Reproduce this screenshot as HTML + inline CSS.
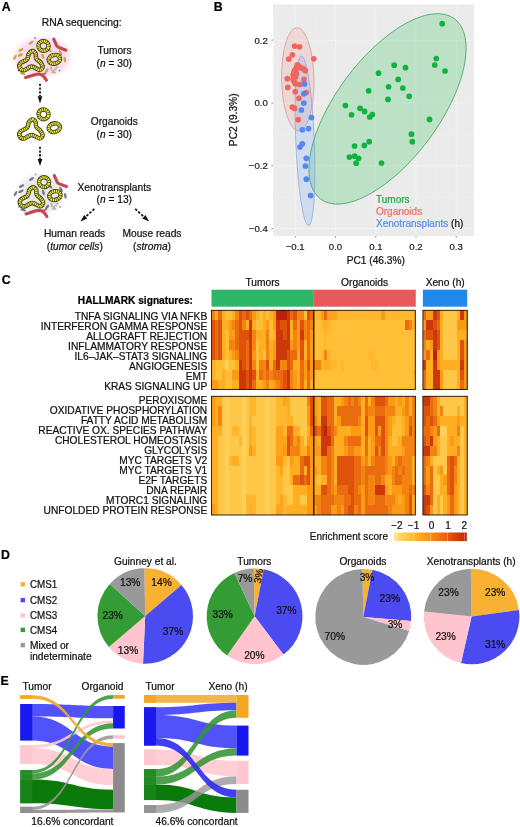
<!DOCTYPE html>
<html lang="en"><head><meta charset="utf-8"><title>Figure</title>
<style>html,body{margin:0;padding:0;background:#fff}body{width:520px;height:827px;overflow:hidden}svg{display:block}text{font-family:"Liberation Sans", sans-serif;stroke-width:0.22px}</style></head><body>
<svg width="520" height="827" viewBox="0 0 520 827">
<rect width="520" height="827" fill="#fff"/>
<g fill="#111">
<text x="1.8" y="10.8" font-size="12.3" font-weight="bold" fill="#000" stroke="#000">A</text>
<text x="213.7" y="10.8" font-size="12.3" font-weight="bold" fill="#000" stroke="#000">B</text>
<text x="1.7" y="283.9" font-size="12.3" font-weight="bold" fill="#000" stroke="#000">C</text>
<text x="0.9" y="559.1" font-size="12.3" font-weight="bold" fill="#000" stroke="#000">D</text>
<text x="0.5" y="685.0" font-size="12.3" font-weight="bold" fill="#000" stroke="#000">E</text>
<defs>
<radialGradient id="gp"><stop offset="0" stop-color="#f6d3e8"/><stop offset="0.72" stop-color="#f9dcee"/><stop offset="1" stop-color="#fdeef7" stop-opacity="0"/></radialGradient>
<radialGradient id="gg"><stop offset="0" stop-color="#e4e4e4"/><stop offset="0.7" stop-color="#ebebeb"/><stop offset="1" stop-color="#f6f6f6" stop-opacity="0"/></radialGradient>
</defs>
<ellipse cx="42.5" cy="57" rx="33" ry="23.5" fill="url(#gp)"/><g transform="translate(0 0)"><g fill="none" stroke="#c4464f" stroke-width="3.1" stroke-linecap="round" stroke-linejoin="round"><path d="M53.8 39.2 L56.6 45.6 Q57.5 47.2 59.5 47.8 L66 50.2"/><path d="M25.5 77.6 L35.5 74.4 Q38.8 73.6 41.2 74.6 Q44 76 46.4 80.2"/><path d="M41.5 74.8 L45.5 73.2" stroke-width="1.6"/></g></g><ellipse cx="31" cy="42.7" rx="2.9" ry="1.25" fill="#c9a63c" transform="rotate(-35 31 42.7)"/><ellipse cx="21" cy="49.8" rx="2.9" ry="1.25" fill="#c9a63c" transform="rotate(-30 21 49.8)"/><ellipse cx="15" cy="57.3" rx="2.9" ry="1.25" fill="#c9a63c" transform="rotate(-60 15 57.3)"/><ellipse cx="20.4" cy="55" rx="2.9" ry="1.25" fill="#c9a63c" transform="rotate(-25 20.4 55)"/><ellipse cx="42.9" cy="56.3" rx="2.9" ry="1.25" fill="#c9a63c" transform="rotate(70 42.9 56.3)"/><ellipse cx="64.8" cy="59.6" rx="2.9" ry="1.25" fill="#c9a63c" transform="rotate(80 64.8 59.6)"/><ellipse cx="46.6" cy="70.8" rx="2.9" ry="1.25" fill="#c9a63c" transform="rotate(-55 46.6 70.8)"/><ellipse cx="22.7" cy="73.6" rx="2.9" ry="1.25" fill="#c9a63c" transform="rotate(20 22.7 73.6)"/><ellipse cx="60.5" cy="53" rx="2.9" ry="1.25" fill="#c9a63c" transform="rotate(60 60.5 53)"/><ellipse cx="49.5" cy="50" rx="2.9" ry="1.25" fill="#c9a63c" transform="rotate(40 49.5 50)"/><circle cx="35" cy="38" r="0.9" fill="#8a6fc0"/><circle cx="59.6" cy="70.6" r="0.9" fill="#8a6fc0"/><circle cx="18.5" cy="70.5" r="0.9" fill="#8a6fc0"/><circle cx="51.5" cy="69.5" r="0.8" fill="#e4e0a8" stroke="#777" stroke-width="0.4"/><circle cx="53.5" cy="70.8" r="0.8" fill="#e4e0a8" stroke="#777" stroke-width="0.4"/><circle cx="55.5" cy="69.2" r="0.8" fill="#e4e0a8" stroke="#777" stroke-width="0.4"/><circle cx="52.6" cy="72.4" r="0.8" fill="#e4e0a8" stroke="#777" stroke-width="0.4"/><circle cx="54.8" cy="72.6" r="0.8" fill="#e4e0a8" stroke="#777" stroke-width="0.4"/><circle cx="57" cy="67.2" r="0.8" fill="#e4e0a8" stroke="#777" stroke-width="0.4"/><circle cx="50.8" cy="67.5" r="0.8" fill="#e4e0a8" stroke="#777" stroke-width="0.4"/><g transform="translate(0 0)"><g fill="none" stroke-linejoin="round"><g stroke="#3e400c" stroke-width="4.5"><path d="M32.60 51.00C33.72 50.97 34.98 52.33 35.60 53.60C36.22 54.87 35.52 57.17 36.30 58.60C37.08 60.03 39.25 60.87 40.30 62.20C41.35 63.53 42.72 65.30 42.60 66.60C42.48 67.90 41.43 70.00 39.60 70.00C37.77 70.00 34.20 66.57 31.60 66.60C29.00 66.63 26.00 70.03 24.00 70.20C22.00 70.37 20.17 68.80 19.60 67.60C19.03 66.40 19.37 64.37 20.60 63.00C21.83 61.63 25.62 60.93 27.00 59.40C28.38 57.87 27.97 55.20 28.90 53.80C29.83 52.40 31.48 51.03 32.60 51.00Z"/><ellipse cx="43.5" cy="45.9" rx="5.0" ry="4.8" transform="rotate(20 43.5 45.9)"/><ellipse cx="54.4" cy="59.3" rx="5.7" ry="4.3" transform="rotate(-14 54.4 59.3)"/></g><g stroke="#e9e650" stroke-width="2.7" stroke-dasharray="1.3 0.62"><path d="M32.60 51.00C33.72 50.97 34.98 52.33 35.60 53.60C36.22 54.87 35.52 57.17 36.30 58.60C37.08 60.03 39.25 60.87 40.30 62.20C41.35 63.53 42.72 65.30 42.60 66.60C42.48 67.90 41.43 70.00 39.60 70.00C37.77 70.00 34.20 66.57 31.60 66.60C29.00 66.63 26.00 70.03 24.00 70.20C22.00 70.37 20.17 68.80 19.60 67.60C19.03 66.40 19.37 64.37 20.60 63.00C21.83 61.63 25.62 60.93 27.00 59.40C28.38 57.87 27.97 55.20 28.90 53.80C29.83 52.40 31.48 51.03 32.60 51.00Z"/><ellipse cx="43.5" cy="45.9" rx="5.0" ry="4.8" transform="rotate(20 43.5 45.9)"/><ellipse cx="54.4" cy="59.3" rx="5.7" ry="4.3" transform="rotate(-14 54.4 59.3)"/></g></g></g>
<g transform="translate(0 68.4)"><g fill="none" stroke-linejoin="round"><g stroke="#3e400c" stroke-width="4.5"><path d="M32.60 51.00C33.72 50.97 34.98 52.33 35.60 53.60C36.22 54.87 35.52 57.17 36.30 58.60C37.08 60.03 39.25 60.87 40.30 62.20C41.35 63.53 42.72 65.30 42.60 66.60C42.48 67.90 41.43 70.00 39.60 70.00C37.77 70.00 34.20 66.57 31.60 66.60C29.00 66.63 26.00 70.03 24.00 70.20C22.00 70.37 20.17 68.80 19.60 67.60C19.03 66.40 19.37 64.37 20.60 63.00C21.83 61.63 25.62 60.93 27.00 59.40C28.38 57.87 27.97 55.20 28.90 53.80C29.83 52.40 31.48 51.03 32.60 51.00Z"/><ellipse cx="43.5" cy="45.9" rx="5.0" ry="4.8" transform="rotate(20 43.5 45.9)"/><ellipse cx="54.4" cy="59.3" rx="5.7" ry="4.3" transform="rotate(-14 54.4 59.3)"/></g><g stroke="#e9e650" stroke-width="2.7" stroke-dasharray="1.3 0.62"><path d="M32.60 51.00C33.72 50.97 34.98 52.33 35.60 53.60C36.22 54.87 35.52 57.17 36.30 58.60C37.08 60.03 39.25 60.87 40.30 62.20C41.35 63.53 42.72 65.30 42.60 66.60C42.48 67.90 41.43 70.00 39.60 70.00C37.77 70.00 34.20 66.57 31.60 66.60C29.00 66.63 26.00 70.03 24.00 70.20C22.00 70.37 20.17 68.80 19.60 67.60C19.03 66.40 19.37 64.37 20.60 63.00C21.83 61.63 25.62 60.93 27.00 59.40C28.38 57.87 27.97 55.20 28.90 53.80C29.83 52.40 31.48 51.03 32.60 51.00Z"/><ellipse cx="43.5" cy="45.9" rx="5.0" ry="4.8" transform="rotate(20 43.5 45.9)"/><ellipse cx="54.4" cy="59.3" rx="5.7" ry="4.3" transform="rotate(-14 54.4 59.3)"/></g></g></g>
<ellipse cx="41.0" cy="193.8" rx="28" ry="23.5" fill="url(#gg)"/><g transform="translate(0.5 136.3)"><g fill="none" stroke="#c4464f" stroke-width="3.1" stroke-linecap="round" stroke-linejoin="round"><path d="M53.8 39.2 L56.6 45.6 Q57.5 47.2 59.5 47.8 L66 50.2"/><path d="M25.5 77.6 L35.5 74.4 Q38.8 73.6 41.2 74.6 Q44 76 46.4 80.2"/><path d="M41.5 74.8 L45.5 73.2" stroke-width="1.6"/></g></g><ellipse cx="31.5" cy="179.0" rx="2.9" ry="1.25" fill="#767688" transform="rotate(-35 31.5 179.0)"/><ellipse cx="21.5" cy="186.10000000000002" rx="2.9" ry="1.25" fill="#767688" transform="rotate(-30 21.5 186.10000000000002)"/><ellipse cx="15.5" cy="193.60000000000002" rx="2.9" ry="1.25" fill="#767688" transform="rotate(-60 15.5 193.60000000000002)"/><ellipse cx="20.9" cy="191.3" rx="2.9" ry="1.25" fill="#767688" transform="rotate(-25 20.9 191.3)"/><ellipse cx="43.4" cy="192.60000000000002" rx="2.9" ry="1.25" fill="#767688" transform="rotate(70 43.4 192.60000000000002)"/><ellipse cx="65.3" cy="195.9" rx="2.9" ry="1.25" fill="#767688" transform="rotate(80 65.3 195.9)"/><ellipse cx="47.1" cy="207.10000000000002" rx="2.9" ry="1.25" fill="#767688" transform="rotate(-55 47.1 207.10000000000002)"/><ellipse cx="23.2" cy="209.9" rx="2.9" ry="1.25" fill="#767688" transform="rotate(20 23.2 209.9)"/><ellipse cx="61.0" cy="189.3" rx="2.9" ry="1.25" fill="#767688" transform="rotate(60 61.0 189.3)"/><ellipse cx="50.0" cy="186.3" rx="2.9" ry="1.25" fill="#767688" transform="rotate(40 50.0 186.3)"/><circle cx="35.5" cy="174.3" r="0.9" fill="#9a9aa8"/><circle cx="60.1" cy="206.9" r="0.9" fill="#9a9aa8"/><circle cx="19.0" cy="206.8" r="0.9" fill="#9a9aa8"/><circle cx="52.0" cy="205.8" r="0.8" fill="#e4e0a8" stroke="#777" stroke-width="0.4"/><circle cx="54.0" cy="207.10000000000002" r="0.8" fill="#e4e0a8" stroke="#777" stroke-width="0.4"/><circle cx="56.0" cy="205.5" r="0.8" fill="#e4e0a8" stroke="#777" stroke-width="0.4"/><circle cx="53.1" cy="208.70000000000002" r="0.8" fill="#e4e0a8" stroke="#777" stroke-width="0.4"/><circle cx="55.3" cy="208.9" r="0.8" fill="#e4e0a8" stroke="#777" stroke-width="0.4"/><circle cx="57.5" cy="203.5" r="0.8" fill="#e4e0a8" stroke="#777" stroke-width="0.4"/><circle cx="51.3" cy="203.8" r="0.8" fill="#e4e0a8" stroke="#777" stroke-width="0.4"/><g transform="translate(0.5 136.3)"><g fill="none" stroke-linejoin="round"><g stroke="#3e400c" stroke-width="4.5"><path d="M32.60 51.00C33.72 50.97 34.98 52.33 35.60 53.60C36.22 54.87 35.52 57.17 36.30 58.60C37.08 60.03 39.25 60.87 40.30 62.20C41.35 63.53 42.72 65.30 42.60 66.60C42.48 67.90 41.43 70.00 39.60 70.00C37.77 70.00 34.20 66.57 31.60 66.60C29.00 66.63 26.00 70.03 24.00 70.20C22.00 70.37 20.17 68.80 19.60 67.60C19.03 66.40 19.37 64.37 20.60 63.00C21.83 61.63 25.62 60.93 27.00 59.40C28.38 57.87 27.97 55.20 28.90 53.80C29.83 52.40 31.48 51.03 32.60 51.00Z"/><ellipse cx="43.5" cy="45.9" rx="5.0" ry="4.8" transform="rotate(20 43.5 45.9)"/><ellipse cx="54.4" cy="59.3" rx="5.7" ry="4.3" transform="rotate(-14 54.4 59.3)"/></g><g stroke="#e9e650" stroke-width="2.7" stroke-dasharray="1.3 0.62"><path d="M32.60 51.00C33.72 50.97 34.98 52.33 35.60 53.60C36.22 54.87 35.52 57.17 36.30 58.60C37.08 60.03 39.25 60.87 40.30 62.20C41.35 63.53 42.72 65.30 42.60 66.60C42.48 67.90 41.43 70.00 39.60 70.00C37.77 70.00 34.20 66.57 31.60 66.60C29.00 66.63 26.00 70.03 24.00 70.20C22.00 70.37 20.17 68.80 19.60 67.60C19.03 66.40 19.37 64.37 20.60 63.00C21.83 61.63 25.62 60.93 27.00 59.40C28.38 57.87 27.97 55.20 28.90 53.80C29.83 52.40 31.48 51.03 32.60 51.00Z"/><ellipse cx="43.5" cy="45.9" rx="5.0" ry="4.8" transform="rotate(20 43.5 45.9)"/><ellipse cx="54.4" cy="59.3" rx="5.7" ry="4.3" transform="rotate(-14 54.4 59.3)"/></g></g></g>
<line x1="40.0" y1="83.8" x2="40.00" y2="96.20" stroke="#111" stroke-width="1.7" stroke-dasharray="2.3 1.4"/>
<polygon points="40.00,103.40 37.70,96.20 42.30,96.20" fill="#111"/>
<line x1="40.0" y1="146.7" x2="40.00" y2="159.00" stroke="#111" stroke-width="1.7" stroke-dasharray="2.3 1.4"/>
<polygon points="40.00,166.20 37.70,159.00 42.30,159.00" fill="#111"/>
<line x1="94.4" y1="208.8" x2="85.71" y2="216.74" stroke="#111" stroke-width="1.6" stroke-dasharray="2.6 1.5"/>
<polygon points="80.40,221.60 84.16,215.04 87.27,218.44" fill="#111"/>
<line x1="135.2" y1="208.8" x2="143.89" y2="216.74" stroke="#111" stroke-width="1.6" stroke-dasharray="2.6 1.5"/>
<polygon points="149.20,221.60 142.33,218.44 145.44,215.04" fill="#111"/>
<text x="41.7" y="26.0" font-size="10.2" stroke="#111" textLength="80" lengthAdjust="spacingAndGlyphs">RNA sequencing:</text>
<text x="114.5" y="53.6" font-size="10.2" text-anchor="middle" stroke="#111">Tumors</text>
<text x="114.3" y="67.0" font-size="10.2" text-anchor="middle" stroke="#111">(<tspan font-style="italic">n</tspan> = 30)</text>
<text x="114.3" y="124.6" font-size="10.2" text-anchor="middle" stroke="#111">Organoids</text>
<text x="114.3" y="137.6" font-size="10.2" text-anchor="middle" stroke="#111">(<tspan font-style="italic">n</tspan> = 30)</text>
<text x="114.3" y="191.0" font-size="10.2" text-anchor="middle" stroke="#111">Xenotransplants</text>
<text x="114.3" y="203.4" font-size="10.2" text-anchor="middle" stroke="#111">(<tspan font-style="italic">n</tspan> = 13)</text>
<text x="74.6" y="236.6" font-size="10.2" text-anchor="middle" stroke="#111">Human reads</text>
<text x="74.8" y="250.0" font-size="10.2" text-anchor="middle" stroke="#111">(<tspan font-style="italic">tumor cells</tspan>)</text>
<text x="152" y="236.6" font-size="10.2" text-anchor="middle" stroke="#111">Mouse reads</text>
<text x="152" y="250.0" font-size="10.2" text-anchor="middle" stroke="#111">(<tspan font-style="italic">stroma</tspan>)</text>
<rect x="273.2" y="4.3" width="200.7" height="231.7" fill="#ebebeb"/>
<line x1="275.12" y1="4.3" x2="275.12" y2="236.0" stroke="#efefef" stroke-width="0.5"/><line x1="315.38" y1="4.3" x2="315.38" y2="236.0" stroke="#efefef" stroke-width="0.5"/><line x1="355.62" y1="4.3" x2="355.62" y2="236.0" stroke="#efefef" stroke-width="0.5"/><line x1="395.88" y1="4.3" x2="395.88" y2="236.0" stroke="#efefef" stroke-width="0.5"/><line x1="436.12" y1="4.3" x2="436.12" y2="236.0" stroke="#efefef" stroke-width="0.5"/><line x1="273.2" y1="8.80" x2="473.9" y2="8.80" stroke="#efefef" stroke-width="0.5"/><line x1="273.2" y1="71.60" x2="473.9" y2="71.60" stroke="#efefef" stroke-width="0.5"/><line x1="273.2" y1="134.40" x2="473.9" y2="134.40" stroke="#efefef" stroke-width="0.5"/><line x1="273.2" y1="197.20" x2="473.9" y2="197.20" stroke="#efefef" stroke-width="0.5"/><line x1="295.25" y1="4.3" x2="295.25" y2="236.0" stroke="#f4f4f4" stroke-width="0.8"/><line x1="295.25" y1="236.0" x2="295.25" y2="237.8" stroke="#777" stroke-width="0.7"/><line x1="335.50" y1="4.3" x2="335.50" y2="236.0" stroke="#f4f4f4" stroke-width="0.8"/><line x1="335.50" y1="236.0" x2="335.50" y2="237.8" stroke="#777" stroke-width="0.7"/><line x1="375.75" y1="4.3" x2="375.75" y2="236.0" stroke="#f4f4f4" stroke-width="0.8"/><line x1="375.75" y1="236.0" x2="375.75" y2="237.8" stroke="#777" stroke-width="0.7"/><line x1="416.00" y1="4.3" x2="416.00" y2="236.0" stroke="#f4f4f4" stroke-width="0.8"/><line x1="416.00" y1="236.0" x2="416.00" y2="237.8" stroke="#777" stroke-width="0.7"/><line x1="456.25" y1="4.3" x2="456.25" y2="236.0" stroke="#f4f4f4" stroke-width="0.8"/><line x1="456.25" y1="236.0" x2="456.25" y2="237.8" stroke="#777" stroke-width="0.7"/><line x1="273.2" y1="40.20" x2="473.9" y2="40.20" stroke="#f4f4f4" stroke-width="0.8"/><line x1="271.4" y1="40.20" x2="273.2" y2="40.20" stroke="#777" stroke-width="0.7"/><line x1="273.2" y1="103.00" x2="473.9" y2="103.00" stroke="#f4f4f4" stroke-width="0.8"/><line x1="271.4" y1="103.00" x2="273.2" y2="103.00" stroke="#777" stroke-width="0.7"/><line x1="273.2" y1="165.80" x2="473.9" y2="165.80" stroke="#f4f4f4" stroke-width="0.8"/><line x1="271.4" y1="165.80" x2="273.2" y2="165.80" stroke="#777" stroke-width="0.7"/><line x1="273.2" y1="228.60" x2="473.9" y2="228.60" stroke="#f4f4f4" stroke-width="0.8"/><line x1="271.4" y1="228.60" x2="273.2" y2="228.60" stroke="#777" stroke-width="0.7"/>
<ellipse cx="387.5" cy="108.9" rx="112.3" ry="51.4" transform="rotate(-53.4 387.5 108.9)" fill="#00ba38" fill-opacity="0.2" stroke="#2e9e55" stroke-opacity="0.85" stroke-width="0.8"/>
<ellipse cx="297.8" cy="79.2" rx="16.2" ry="51.6" transform="rotate(-1 297.8 79.2)" fill="#f8766d" fill-opacity="0.17" stroke="#d98680" stroke-opacity="0.9" stroke-width="0.7"/>
<ellipse cx="305" cy="140.8" rx="9.3" ry="84.8" transform="rotate(-2.4 305 140.8)" fill="#619cff" fill-opacity="0.2" stroke="#7d9bd8" stroke-opacity="0.9" stroke-width="0.7"/>
<g fill="#12b23e"><circle cx="442.2" cy="23.7" r="2.85"/><circle cx="436.3" cy="58.5" r="2.85"/><circle cx="434.8" cy="65" r="2.85"/><circle cx="445" cy="71" r="2.85"/><circle cx="394.2" cy="65.2" r="2.85"/><circle cx="405.5" cy="67.7" r="2.85"/><circle cx="378.5" cy="73.2" r="2.85"/><circle cx="398.2" cy="79.4" r="2.85"/><circle cx="388.6" cy="86.8" r="2.85"/><circle cx="402.8" cy="88" r="2.85"/><circle cx="368.6" cy="90.8" r="2.85"/><circle cx="409.2" cy="96.3" r="2.85"/><circle cx="388" cy="99.4" r="2.85"/><circle cx="360" cy="108.3" r="2.85"/><circle cx="364.6" cy="111.4" r="2.85"/><circle cx="372.3" cy="114.5" r="2.85"/><circle cx="369.8" cy="117" r="2.85"/><circle cx="429.5" cy="119.4" r="2.85"/><circle cx="411.4" cy="134.2" r="2.85"/><circle cx="345.4" cy="105.5" r="2.85"/><circle cx="351.5" cy="114.8" r="2.85"/><circle cx="412.3" cy="141.7" r="2.85"/><circle cx="369.2" cy="141.7" r="2.85"/><circle cx="364.3" cy="145.4" r="2.85"/><circle cx="381.5" cy="163" r="2.85"/><circle cx="354.6" cy="146" r="2.85"/><circle cx="349.4" cy="157" r="2.85"/><circle cx="354.6" cy="156.2" r="2.85"/><circle cx="358.6" cy="158.3" r="2.85"/><circle cx="356.2" cy="163.2" r="2.85"/></g>
<g fill="#f0665c"><circle cx="294.6" cy="46.1" r="2.85"/><circle cx="299.6" cy="46.8" r="2.85"/><circle cx="292.4" cy="54.8" r="2.85"/><circle cx="288.8" cy="59.1" r="2.85"/><circle cx="313.8" cy="58.8" r="2.85"/><circle cx="296.7" cy="67.1" r="2.85"/><circle cx="301" cy="67.8" r="2.85"/><circle cx="305.4" cy="70.7" r="2.85"/><circle cx="294.6" cy="70.7" r="2.85"/><circle cx="293.1" cy="75" r="2.85"/><circle cx="293.1" cy="79.4" r="2.85"/><circle cx="287.3" cy="78.7" r="2.85"/><circle cx="304" cy="79.4" r="2.85"/><circle cx="295.3" cy="83.8" r="2.85"/><circle cx="299.6" cy="84.5" r="2.85"/><circle cx="287.8" cy="87.4" r="2.85"/><circle cx="295.3" cy="91.7" r="2.85"/><circle cx="306.2" cy="92.5" r="2.85"/><circle cx="298.9" cy="98.3" r="2.85"/><circle cx="292.4" cy="107" r="2.85"/><circle cx="294.6" cy="108.4" r="2.85"/><circle cx="298.2" cy="119.7" r="2.85"/><circle cx="298.6" cy="66.2" r="2.85"/><circle cx="296" cy="68.8" r="2.85"/><circle cx="294" cy="72.6" r="2.85"/><circle cx="295.6" cy="76.8" r="2.85"/><circle cx="294.2" cy="81.6" r="2.85"/><circle cx="303.2" cy="68.6" r="2.85"/><circle cx="296.5" cy="73.5" r="2.85"/><circle cx="297.4" cy="64.9" r="2.85"/></g>
<g fill="#5488f0"><circle cx="303.8" cy="93.8" r="2.85"/><circle cx="303.8" cy="103" r="2.85"/><circle cx="301.4" cy="110" r="2.85"/><circle cx="311.5" cy="117.5" r="2.85"/><circle cx="302.3" cy="129.8" r="2.85"/><circle cx="308.5" cy="128.6" r="2.85"/><circle cx="302.3" cy="143.8" r="2.85"/><circle cx="300" cy="147" r="2.85"/><circle cx="306.3" cy="158.3" r="2.85"/><circle cx="305.4" cy="166" r="2.85"/><circle cx="306.3" cy="179.2" r="2.85"/><circle cx="310.6" cy="195.5" r="2.85"/><circle cx="304.5" cy="84" r="2.85"/></g>
<text x="267.8" y="43.65" font-size="9.6" text-anchor="end" fill="#222" stroke="#222">0.2</text>
<text x="267.8" y="106.45" font-size="9.6" text-anchor="end" fill="#222" stroke="#222">0.0</text>
<text x="267.8" y="169.25" font-size="9.6" text-anchor="end" fill="#222" stroke="#222">−0.2</text>
<text x="267.8" y="232.05" font-size="9.6" text-anchor="end" fill="#222" stroke="#222">−0.4</text>
<text x="295.2" y="250.2" font-size="9.6" text-anchor="middle" fill="#222" stroke="#222">−0.1</text>
<text x="335.5" y="250.2" font-size="9.6" text-anchor="middle" fill="#222" stroke="#222">0.0</text>
<text x="375.8" y="250.2" font-size="9.6" text-anchor="middle" fill="#222" stroke="#222">0.1</text>
<text x="416.0" y="250.2" font-size="9.6" text-anchor="middle" fill="#222" stroke="#222">0.2</text>
<text x="456.2" y="250.2" font-size="9.6" text-anchor="middle" fill="#222" stroke="#222">0.3</text>
<text x="375.8" y="264.4" font-size="10.2" text-anchor="middle" stroke="#111">PC1 (46.3%)</text>
<text x="0" y="0" font-size="10.2" text-anchor="middle" stroke="#111" transform="translate(236.8 119.8) rotate(-90)">PC2 (9.3%)</text>
<text x="376" y="202.8" font-size="10" fill="#21a84a" stroke="#21a84a">Tumors</text>
<text x="376" y="215.0" font-size="10" fill="#ea6f68" stroke="#ea6f68">Organoids</text>
<text x="376" y="226.8" font-size="10" stroke="#111"><tspan fill="#5b8fe8" stroke="#5b8fe8">Xenotransplants</tspan> (h)</text>
<g shape-rendering="crispEdges"><rect x="211.50" y="310.30" width="3.71" height="10.19" fill="#f48410"/><rect x="214.91" y="310.30" width="3.71" height="10.19" fill="#ffae22"/><rect x="218.32" y="310.30" width="3.71" height="10.19" fill="#ea6c0e"/><rect x="221.73" y="310.30" width="3.71" height="10.19" fill="#ffae22"/><rect x="225.14" y="310.30" width="7.12" height="10.19" fill="#ffc038"/><rect x="231.96" y="310.30" width="3.71" height="10.19" fill="#ffae22"/><rect x="235.37" y="310.30" width="3.71" height="10.19" fill="#f48410"/><rect x="238.78" y="310.30" width="3.71" height="10.19" fill="#de520c"/><rect x="242.19" y="310.30" width="3.71" height="10.19" fill="#ea6c0e"/><rect x="245.60" y="310.30" width="3.71" height="10.19" fill="#de520c"/><rect x="249.01" y="310.30" width="3.71" height="10.19" fill="#ea6c0e"/><rect x="252.42" y="310.30" width="3.71" height="10.19" fill="#fc9a16"/><rect x="255.83" y="310.30" width="3.71" height="10.19" fill="#ffae22"/><rect x="259.24" y="310.30" width="3.71" height="10.19" fill="#ffc038"/><rect x="262.65" y="310.30" width="3.71" height="10.19" fill="#ffae22"/><rect x="266.06" y="310.30" width="3.71" height="10.19" fill="#ffc038"/><rect x="269.47" y="310.30" width="3.71" height="10.19" fill="#ffae22"/><rect x="272.88" y="310.30" width="3.71" height="10.19" fill="#fc9a16"/><rect x="276.29" y="310.30" width="10.53" height="10.19" fill="#bc220a"/><rect x="286.52" y="310.30" width="3.71" height="10.19" fill="#cc380a"/><rect x="289.93" y="310.30" width="3.71" height="10.19" fill="#ea6c0e"/><rect x="293.34" y="310.30" width="3.71" height="10.19" fill="#de520c"/><rect x="296.75" y="310.30" width="7.12" height="10.19" fill="#f48410"/><rect x="303.57" y="310.30" width="3.71" height="10.19" fill="#ffc038"/><rect x="306.98" y="310.30" width="3.71" height="10.19" fill="#de520c"/><rect x="310.39" y="310.30" width="3.71" height="10.19" fill="#ea6c0e"/><rect x="211.50" y="320.19" width="3.71" height="10.19" fill="#de520c"/><rect x="214.91" y="320.19" width="3.71" height="10.19" fill="#ea6c0e"/><rect x="218.32" y="320.19" width="3.71" height="10.19" fill="#de520c"/><rect x="221.73" y="320.19" width="7.12" height="10.19" fill="#ffae22"/><rect x="228.55" y="320.19" width="3.71" height="10.19" fill="#fc9a16"/><rect x="231.96" y="320.19" width="3.71" height="10.19" fill="#f48410"/><rect x="235.37" y="320.19" width="3.71" height="10.19" fill="#ea6c0e"/><rect x="238.78" y="320.19" width="3.71" height="10.19" fill="#de520c"/><rect x="242.19" y="320.19" width="3.71" height="10.19" fill="#f48410"/><rect x="245.60" y="320.19" width="3.71" height="10.19" fill="#ffae22"/><rect x="249.01" y="320.19" width="3.71" height="10.19" fill="#cc380a"/><rect x="252.42" y="320.19" width="3.71" height="10.19" fill="#ffae22"/><rect x="255.83" y="320.19" width="7.12" height="10.19" fill="#ffc038"/><rect x="262.65" y="320.19" width="3.71" height="10.19" fill="#ffae22"/><rect x="266.06" y="320.19" width="3.71" height="10.19" fill="#fc9a16"/><rect x="269.47" y="320.19" width="3.71" height="10.19" fill="#ffc038"/><rect x="272.88" y="320.19" width="3.71" height="10.19" fill="#fc9a16"/><rect x="276.29" y="320.19" width="3.71" height="10.19" fill="#cc380a"/><rect x="279.70" y="320.19" width="7.12" height="10.19" fill="#de520c"/><rect x="286.52" y="320.19" width="3.71" height="10.19" fill="#cc380a"/><rect x="289.93" y="320.19" width="3.71" height="10.19" fill="#ffae22"/><rect x="293.34" y="320.19" width="3.71" height="10.19" fill="#ea6c0e"/><rect x="296.75" y="320.19" width="3.71" height="10.19" fill="#fc9a16"/><rect x="300.16" y="320.19" width="3.71" height="10.19" fill="#de520c"/><rect x="303.57" y="320.19" width="3.71" height="10.19" fill="#f48410"/><rect x="306.98" y="320.19" width="3.71" height="10.19" fill="#ea6c0e"/><rect x="310.39" y="320.19" width="3.71" height="10.19" fill="#f48410"/><rect x="211.50" y="330.08" width="3.71" height="10.19" fill="#de520c"/><rect x="214.91" y="330.08" width="3.71" height="10.19" fill="#ea6c0e"/><rect x="218.32" y="330.08" width="3.71" height="10.19" fill="#de520c"/><rect x="221.73" y="330.08" width="3.71" height="10.19" fill="#ffae22"/><rect x="225.14" y="330.08" width="3.71" height="10.19" fill="#ffc038"/><rect x="228.55" y="330.08" width="7.12" height="10.19" fill="#fc9a16"/><rect x="235.37" y="330.08" width="3.71" height="10.19" fill="#ea6c0e"/><rect x="238.78" y="330.08" width="10.53" height="10.19" fill="#de520c"/><rect x="249.01" y="330.08" width="3.71" height="10.19" fill="#cc380a"/><rect x="252.42" y="330.08" width="3.71" height="10.19" fill="#f48410"/><rect x="255.83" y="330.08" width="10.53" height="10.19" fill="#ffae22"/><rect x="266.06" y="330.08" width="3.71" height="10.19" fill="#f48410"/><rect x="269.47" y="330.08" width="3.71" height="10.19" fill="#ffc038"/><rect x="272.88" y="330.08" width="3.71" height="10.19" fill="#ffae22"/><rect x="276.29" y="330.08" width="7.12" height="10.19" fill="#cc380a"/><rect x="283.11" y="330.08" width="3.71" height="10.19" fill="#de520c"/><rect x="286.52" y="330.08" width="3.71" height="10.19" fill="#cc380a"/><rect x="289.93" y="330.08" width="3.71" height="10.19" fill="#ffae22"/><rect x="293.34" y="330.08" width="3.71" height="10.19" fill="#f48410"/><rect x="296.75" y="330.08" width="3.71" height="10.19" fill="#fc9a16"/><rect x="300.16" y="330.08" width="3.71" height="10.19" fill="#cc380a"/><rect x="303.57" y="330.08" width="3.71" height="10.19" fill="#f48410"/><rect x="306.98" y="330.08" width="3.71" height="10.19" fill="#ea6c0e"/><rect x="310.39" y="330.08" width="3.71" height="10.19" fill="#fc9a16"/><rect x="211.50" y="339.97" width="3.71" height="10.19" fill="#de520c"/><rect x="214.91" y="339.97" width="3.71" height="10.19" fill="#ea6c0e"/><rect x="218.32" y="339.97" width="3.71" height="10.19" fill="#de520c"/><rect x="221.73" y="339.97" width="3.71" height="10.19" fill="#ffae22"/><rect x="225.14" y="339.97" width="3.71" height="10.19" fill="#ffc038"/><rect x="228.55" y="339.97" width="7.12" height="10.19" fill="#f48410"/><rect x="235.37" y="339.97" width="3.71" height="10.19" fill="#ea6c0e"/><rect x="238.78" y="339.97" width="7.12" height="10.19" fill="#de520c"/><rect x="245.60" y="339.97" width="3.71" height="10.19" fill="#ea6c0e"/><rect x="249.01" y="339.97" width="3.71" height="10.19" fill="#cc380a"/><rect x="252.42" y="339.97" width="3.71" height="10.19" fill="#f48410"/><rect x="255.83" y="339.97" width="3.71" height="10.19" fill="#ffc038"/><rect x="259.24" y="339.97" width="7.12" height="10.19" fill="#ffae22"/><rect x="266.06" y="339.97" width="3.71" height="10.19" fill="#f48410"/><rect x="269.47" y="339.97" width="3.71" height="10.19" fill="#ffae22"/><rect x="272.88" y="339.97" width="3.71" height="10.19" fill="#fc9a16"/><rect x="276.29" y="339.97" width="13.94" height="10.19" fill="#cc380a"/><rect x="289.93" y="339.97" width="3.71" height="10.19" fill="#fc9a16"/><rect x="293.34" y="339.97" width="3.71" height="10.19" fill="#f48410"/><rect x="296.75" y="339.97" width="3.71" height="10.19" fill="#fc9a16"/><rect x="300.16" y="339.97" width="3.71" height="10.19" fill="#de520c"/><rect x="303.57" y="339.97" width="3.71" height="10.19" fill="#ffae22"/><rect x="306.98" y="339.97" width="3.71" height="10.19" fill="#ea6c0e"/><rect x="310.39" y="339.97" width="3.71" height="10.19" fill="#fc9a16"/><rect x="211.50" y="349.86" width="3.71" height="10.19" fill="#de520c"/><rect x="214.91" y="349.86" width="3.71" height="10.19" fill="#ea6c0e"/><rect x="218.32" y="349.86" width="3.71" height="10.19" fill="#de520c"/><rect x="221.73" y="349.86" width="3.71" height="10.19" fill="#ffae22"/><rect x="225.14" y="349.86" width="3.71" height="10.19" fill="#ffc038"/><rect x="228.55" y="349.86" width="3.71" height="10.19" fill="#ffae22"/><rect x="231.96" y="349.86" width="3.71" height="10.19" fill="#fc9a16"/><rect x="235.37" y="349.86" width="3.71" height="10.19" fill="#f48410"/><rect x="238.78" y="349.86" width="7.12" height="10.19" fill="#de520c"/><rect x="245.60" y="349.86" width="3.71" height="10.19" fill="#ea6c0e"/><rect x="249.01" y="349.86" width="3.71" height="10.19" fill="#cc380a"/><rect x="252.42" y="349.86" width="3.71" height="10.19" fill="#fc9a16"/><rect x="255.83" y="349.86" width="3.71" height="10.19" fill="#ffc038"/><rect x="259.24" y="349.86" width="3.71" height="10.19" fill="#ffae22"/><rect x="262.65" y="349.86" width="3.71" height="10.19" fill="#ffc038"/><rect x="266.06" y="349.86" width="3.71" height="10.19" fill="#f48410"/><rect x="269.47" y="349.86" width="3.71" height="10.19" fill="#ffae22"/><rect x="272.88" y="349.86" width="3.71" height="10.19" fill="#fc9a16"/><rect x="276.29" y="349.86" width="10.53" height="10.19" fill="#cc380a"/><rect x="286.52" y="349.86" width="3.71" height="10.19" fill="#de520c"/><rect x="289.93" y="349.86" width="7.12" height="10.19" fill="#ea6c0e"/><rect x="296.75" y="349.86" width="3.71" height="10.19" fill="#ffae22"/><rect x="300.16" y="349.86" width="3.71" height="10.19" fill="#de520c"/><rect x="303.57" y="349.86" width="3.71" height="10.19" fill="#ffae22"/><rect x="306.98" y="349.86" width="3.71" height="10.19" fill="#ea6c0e"/><rect x="310.39" y="349.86" width="3.71" height="10.19" fill="#fc9a16"/><rect x="211.50" y="359.75" width="3.71" height="10.19" fill="#ffae22"/><rect x="214.91" y="359.75" width="10.53" height="10.19" fill="#ffc038"/><rect x="225.14" y="359.75" width="3.71" height="10.19" fill="#ffd05a"/><rect x="228.55" y="359.75" width="7.12" height="10.19" fill="#ffc038"/><rect x="235.37" y="359.75" width="3.71" height="10.19" fill="#ffae22"/><rect x="238.78" y="359.75" width="3.71" height="10.19" fill="#cc380a"/><rect x="242.19" y="359.75" width="3.71" height="10.19" fill="#de520c"/><rect x="245.60" y="359.75" width="3.71" height="10.19" fill="#ea6c0e"/><rect x="249.01" y="359.75" width="3.71" height="10.19" fill="#cc380a"/><rect x="252.42" y="359.75" width="3.71" height="10.19" fill="#f48410"/><rect x="255.83" y="359.75" width="3.71" height="10.19" fill="#ffc038"/><rect x="259.24" y="359.75" width="7.12" height="10.19" fill="#f48410"/><rect x="266.06" y="359.75" width="3.71" height="10.19" fill="#de520c"/><rect x="269.47" y="359.75" width="3.71" height="10.19" fill="#ffae22"/><rect x="272.88" y="359.75" width="3.71" height="10.19" fill="#ea6c0e"/><rect x="276.29" y="359.75" width="3.71" height="10.19" fill="#cc380a"/><rect x="279.70" y="359.75" width="7.12" height="10.19" fill="#f48410"/><rect x="286.52" y="359.75" width="3.71" height="10.19" fill="#de520c"/><rect x="289.93" y="359.75" width="3.71" height="10.19" fill="#ea6c0e"/><rect x="293.34" y="359.75" width="7.12" height="10.19" fill="#ffae22"/><rect x="300.16" y="359.75" width="3.71" height="10.19" fill="#ea6c0e"/><rect x="303.57" y="359.75" width="3.71" height="10.19" fill="#fc9a16"/><rect x="306.98" y="359.75" width="3.71" height="10.19" fill="#de520c"/><rect x="310.39" y="359.75" width="3.71" height="10.19" fill="#fc9a16"/><rect x="211.50" y="369.64" width="3.71" height="10.19" fill="#ffae22"/><rect x="214.91" y="369.64" width="7.12" height="10.19" fill="#ffc038"/><rect x="221.73" y="369.64" width="3.71" height="10.19" fill="#ffae22"/><rect x="225.14" y="369.64" width="7.12" height="10.19" fill="#ffc038"/><rect x="231.96" y="369.64" width="7.12" height="10.19" fill="#fc9a16"/><rect x="238.78" y="369.64" width="7.12" height="10.19" fill="#cc380a"/><rect x="245.60" y="369.64" width="3.71" height="10.19" fill="#de520c"/><rect x="249.01" y="369.64" width="3.71" height="10.19" fill="#cc380a"/><rect x="252.42" y="369.64" width="3.71" height="10.19" fill="#de520c"/><rect x="255.83" y="369.64" width="3.71" height="10.19" fill="#ffae22"/><rect x="259.24" y="369.64" width="3.71" height="10.19" fill="#ea6c0e"/><rect x="262.65" y="369.64" width="3.71" height="10.19" fill="#f48410"/><rect x="266.06" y="369.64" width="3.71" height="10.19" fill="#ea6c0e"/><rect x="269.47" y="369.64" width="3.71" height="10.19" fill="#f48410"/><rect x="272.88" y="369.64" width="10.53" height="10.19" fill="#ea6c0e"/><rect x="283.11" y="369.64" width="3.71" height="10.19" fill="#de520c"/><rect x="286.52" y="369.64" width="3.71" height="10.19" fill="#cc380a"/><rect x="289.93" y="369.64" width="3.71" height="10.19" fill="#f48410"/><rect x="293.34" y="369.64" width="3.71" height="10.19" fill="#fc9a16"/><rect x="296.75" y="369.64" width="3.71" height="10.19" fill="#ffae22"/><rect x="300.16" y="369.64" width="3.71" height="10.19" fill="#ea6c0e"/><rect x="303.57" y="369.64" width="3.71" height="10.19" fill="#fc9a16"/><rect x="306.98" y="369.64" width="3.71" height="10.19" fill="#ea6c0e"/><rect x="310.39" y="369.64" width="3.71" height="10.19" fill="#fc9a16"/><rect x="211.50" y="379.53" width="7.12" height="10.19" fill="#fc9a16"/><rect x="218.32" y="379.53" width="7.12" height="10.19" fill="#ffae22"/><rect x="225.14" y="379.53" width="7.12" height="10.19" fill="#ffc038"/><rect x="231.96" y="379.53" width="7.12" height="10.19" fill="#ffae22"/><rect x="238.78" y="379.53" width="7.12" height="10.19" fill="#cc380a"/><rect x="245.60" y="379.53" width="3.71" height="10.19" fill="#de520c"/><rect x="249.01" y="379.53" width="3.71" height="10.19" fill="#cc380a"/><rect x="252.42" y="379.53" width="3.71" height="10.19" fill="#ea6c0e"/><rect x="255.83" y="379.53" width="7.12" height="10.19" fill="#ffae22"/><rect x="262.65" y="379.53" width="3.71" height="10.19" fill="#fc9a16"/><rect x="266.06" y="379.53" width="3.71" height="10.19" fill="#f48410"/><rect x="269.47" y="379.53" width="3.71" height="10.19" fill="#ffae22"/><rect x="272.88" y="379.53" width="3.71" height="10.19" fill="#fc9a16"/><rect x="276.29" y="379.53" width="3.71" height="10.19" fill="#f48410"/><rect x="279.70" y="379.53" width="3.71" height="10.19" fill="#ea6c0e"/><rect x="283.11" y="379.53" width="3.71" height="10.19" fill="#de520c"/><rect x="286.52" y="379.53" width="3.71" height="10.19" fill="#cc380a"/><rect x="289.93" y="379.53" width="3.71" height="10.19" fill="#f48410"/><rect x="293.34" y="379.53" width="3.71" height="10.19" fill="#fc9a16"/><rect x="296.75" y="379.53" width="3.71" height="10.19" fill="#ffae22"/><rect x="300.16" y="379.53" width="3.71" height="10.19" fill="#ea6c0e"/><rect x="303.57" y="379.53" width="3.71" height="10.19" fill="#ffae22"/><rect x="306.98" y="379.53" width="3.71" height="10.19" fill="#ea6c0e"/><rect x="310.39" y="379.53" width="3.71" height="10.19" fill="#ffae22"/></g>
<g shape-rendering="crispEdges"><rect x="313.80" y="310.30" width="7.07" height="10.19" fill="#ffb72d"/><rect x="320.57" y="310.30" width="3.68" height="10.19" fill="#fc9a16"/><rect x="323.95" y="310.30" width="3.68" height="10.19" fill="#ea6c0e"/><rect x="327.33" y="310.30" width="10.45" height="10.19" fill="#fea41c"/><rect x="337.48" y="310.30" width="44.28" height="10.19" fill="#ffb72d"/><rect x="381.47" y="310.30" width="3.68" height="10.19" fill="#fc9a16"/><rect x="384.85" y="310.30" width="30.75" height="10.19" fill="#ffb72d"/><rect x="313.80" y="320.19" width="7.07" height="10.19" fill="#ffc038"/><rect x="320.57" y="320.19" width="3.68" height="10.19" fill="#ffb72d"/><rect x="323.95" y="320.19" width="3.68" height="10.19" fill="#ffae22"/><rect x="327.33" y="320.19" width="3.68" height="10.19" fill="#ffb72d"/><rect x="330.72" y="320.19" width="74.73" height="10.19" fill="#ffc038"/><rect x="405.15" y="320.19" width="3.68" height="10.19" fill="#ea6c0e"/><rect x="408.53" y="320.19" width="3.68" height="10.19" fill="#f48410"/><rect x="411.92" y="320.19" width="3.68" height="10.19" fill="#ffae22"/><rect x="313.80" y="330.08" width="10.45" height="10.19" fill="#ffc038"/><rect x="323.95" y="330.08" width="3.68" height="10.19" fill="#ffb72d"/><rect x="327.33" y="330.08" width="88.27" height="10.19" fill="#ffc038"/><rect x="313.80" y="339.97" width="10.45" height="10.19" fill="#ffc038"/><rect x="323.95" y="339.97" width="3.68" height="10.19" fill="#ffb72d"/><rect x="327.33" y="339.97" width="88.27" height="10.19" fill="#ffc038"/><rect x="313.80" y="349.86" width="7.07" height="10.19" fill="#ffc038"/><rect x="320.57" y="349.86" width="3.68" height="10.19" fill="#ffb72d"/><rect x="323.95" y="349.86" width="3.68" height="10.19" fill="#f48410"/><rect x="327.33" y="349.86" width="3.68" height="10.19" fill="#ffb72d"/><rect x="330.72" y="349.86" width="37.52" height="10.19" fill="#ffc038"/><rect x="367.93" y="349.86" width="7.07" height="10.19" fill="#ffb72d"/><rect x="374.70" y="349.86" width="40.90" height="10.19" fill="#ffc038"/><rect x="313.80" y="359.75" width="7.07" height="10.19" fill="#f48410"/><rect x="320.57" y="359.75" width="3.68" height="10.19" fill="#ffb72d"/><rect x="323.95" y="359.75" width="7.07" height="10.19" fill="#ffae22"/><rect x="330.72" y="359.75" width="7.07" height="10.19" fill="#ffb72d"/><rect x="337.48" y="359.75" width="3.68" height="10.19" fill="#ffc038"/><rect x="340.87" y="359.75" width="3.68" height="10.19" fill="#ffb72d"/><rect x="344.25" y="359.75" width="27.37" height="10.19" fill="#ffc038"/><rect x="371.32" y="359.75" width="7.07" height="10.19" fill="#ffb72d"/><rect x="378.08" y="359.75" width="37.52" height="10.19" fill="#ffc038"/><rect x="313.80" y="369.64" width="3.68" height="10.19" fill="#ffb72d"/><rect x="317.18" y="369.64" width="95.03" height="10.19" fill="#ffc038"/><rect x="411.92" y="369.64" width="3.68" height="10.19" fill="#ffb72d"/><rect x="313.80" y="379.53" width="101.80" height="10.19" fill="#ffc038"/></g>
<g shape-rendering="crispEdges"><rect x="422.90" y="310.30" width="3.71" height="10.19" fill="#ea6c0e"/><rect x="426.31" y="310.30" width="7.12" height="10.19" fill="#fc9a16"/><rect x="433.12" y="310.30" width="3.71" height="10.19" fill="#cc380a"/><rect x="436.53" y="310.30" width="3.71" height="10.19" fill="#de520c"/><rect x="439.94" y="310.30" width="3.71" height="10.19" fill="#ffae22"/><rect x="443.35" y="310.30" width="13.93" height="10.19" fill="#ffc849"/><rect x="456.98" y="310.30" width="3.71" height="10.19" fill="#ffae22"/><rect x="460.38" y="310.30" width="3.71" height="10.19" fill="#cc380a"/><rect x="463.79" y="310.30" width="3.71" height="10.19" fill="#fc9a16"/><rect x="422.90" y="320.19" width="3.71" height="10.19" fill="#fc9a16"/><rect x="426.31" y="320.19" width="7.12" height="10.19" fill="#cc380a"/><rect x="433.12" y="320.19" width="3.71" height="10.19" fill="#de520c"/><rect x="436.53" y="320.19" width="3.71" height="10.19" fill="#ea6c0e"/><rect x="439.94" y="320.19" width="3.71" height="10.19" fill="#ffae22"/><rect x="443.35" y="320.19" width="13.93" height="10.19" fill="#ffc849"/><rect x="456.98" y="320.19" width="10.52" height="10.19" fill="#fc9a16"/><rect x="422.90" y="330.08" width="3.71" height="10.19" fill="#ea6c0e"/><rect x="426.31" y="330.08" width="7.12" height="10.19" fill="#de520c"/><rect x="433.12" y="330.08" width="3.71" height="10.19" fill="#cc380a"/><rect x="436.53" y="330.08" width="3.71" height="10.19" fill="#de520c"/><rect x="439.94" y="330.08" width="3.71" height="10.19" fill="#ffae22"/><rect x="443.35" y="330.08" width="13.93" height="10.19" fill="#ffc849"/><rect x="456.98" y="330.08" width="10.52" height="10.19" fill="#ffae22"/><rect x="422.90" y="339.97" width="3.71" height="10.19" fill="#f48410"/><rect x="426.31" y="339.97" width="3.71" height="10.19" fill="#ffae22"/><rect x="429.72" y="339.97" width="3.71" height="10.19" fill="#fc9a16"/><rect x="433.12" y="339.97" width="3.71" height="10.19" fill="#cc380a"/><rect x="436.53" y="339.97" width="3.71" height="10.19" fill="#de520c"/><rect x="439.94" y="339.97" width="3.71" height="10.19" fill="#ffae22"/><rect x="443.35" y="339.97" width="13.93" height="10.19" fill="#ffc849"/><rect x="456.98" y="339.97" width="3.71" height="10.19" fill="#ffae22"/><rect x="460.38" y="339.97" width="3.71" height="10.19" fill="#de520c"/><rect x="463.79" y="339.97" width="3.71" height="10.19" fill="#fc9a16"/><rect x="422.90" y="349.86" width="3.71" height="10.19" fill="#fc9a16"/><rect x="426.31" y="349.86" width="3.71" height="10.19" fill="#ea6c0e"/><rect x="429.72" y="349.86" width="3.71" height="10.19" fill="#ffae22"/><rect x="433.12" y="349.86" width="3.71" height="10.19" fill="#bc220a"/><rect x="436.53" y="349.86" width="3.71" height="10.19" fill="#fc9a16"/><rect x="439.94" y="349.86" width="3.71" height="10.19" fill="#ffae22"/><rect x="443.35" y="349.86" width="13.93" height="10.19" fill="#ffc849"/><rect x="456.98" y="349.86" width="3.71" height="10.19" fill="#ffae22"/><rect x="460.38" y="349.86" width="3.71" height="10.19" fill="#de520c"/><rect x="463.79" y="349.86" width="3.71" height="10.19" fill="#fc9a16"/><rect x="422.90" y="359.75" width="3.71" height="10.19" fill="#cc380a"/><rect x="426.31" y="359.75" width="7.12" height="10.19" fill="#ffae22"/><rect x="433.12" y="359.75" width="3.71" height="10.19" fill="#cc380a"/><rect x="436.53" y="359.75" width="3.71" height="10.19" fill="#fc9a16"/><rect x="439.94" y="359.75" width="20.75" height="10.19" fill="#ffae22"/><rect x="460.38" y="359.75" width="3.71" height="10.19" fill="#cc380a"/><rect x="463.79" y="359.75" width="3.71" height="10.19" fill="#fc9a16"/><rect x="422.90" y="369.64" width="3.71" height="10.19" fill="#ea6c0e"/><rect x="426.31" y="369.64" width="7.12" height="10.19" fill="#ffae22"/><rect x="433.12" y="369.64" width="7.12" height="10.19" fill="#cc380a"/><rect x="439.94" y="369.64" width="3.71" height="10.19" fill="#fc9a16"/><rect x="443.35" y="369.64" width="13.93" height="10.19" fill="#ffc849"/><rect x="456.98" y="369.64" width="3.71" height="10.19" fill="#ffae22"/><rect x="460.38" y="369.64" width="3.71" height="10.19" fill="#de520c"/><rect x="463.79" y="369.64" width="3.71" height="10.19" fill="#fc9a16"/><rect x="422.90" y="379.53" width="3.71" height="10.19" fill="#ea6c0e"/><rect x="426.31" y="379.53" width="7.12" height="10.19" fill="#ffae22"/><rect x="433.12" y="379.53" width="7.12" height="10.19" fill="#cc380a"/><rect x="439.94" y="379.53" width="3.71" height="10.19" fill="#fc9a16"/><rect x="443.35" y="379.53" width="13.93" height="10.19" fill="#ffc849"/><rect x="456.98" y="379.53" width="3.71" height="10.19" fill="#ffae22"/><rect x="460.38" y="379.53" width="3.71" height="10.19" fill="#ea6c0e"/><rect x="463.79" y="379.53" width="3.71" height="10.19" fill="#fc9a16"/></g>
<rect x="211.5" y="310.3" width="102.30" height="79.12" fill="none" stroke="#1a1208" stroke-width="0.9"/>
<rect x="313.8" y="310.3" width="101.50" height="79.12" fill="none" stroke="#1a1208" stroke-width="0.9"/>
<rect x="422.9" y="310.3" width="44.30" height="79.12" fill="none" stroke="#1a1208" stroke-width="0.9"/>
<g shape-rendering="crispEdges"><rect x="211.50" y="396.30" width="3.71" height="10.19" fill="#fc9a16"/><rect x="214.91" y="396.30" width="7.12" height="10.19" fill="#ffae22"/><rect x="221.73" y="396.30" width="3.71" height="10.19" fill="#ffc849"/><rect x="225.14" y="396.30" width="3.71" height="10.19" fill="#ffd05a"/><rect x="228.55" y="396.30" width="13.94" height="10.19" fill="#ffc849"/><rect x="242.19" y="396.30" width="3.71" height="10.19" fill="#ffd05a"/><rect x="245.60" y="396.30" width="3.71" height="10.19" fill="#ffc849"/><rect x="249.01" y="396.30" width="7.12" height="10.19" fill="#ffb72d"/><rect x="255.83" y="396.30" width="10.53" height="10.19" fill="#ffc849"/><rect x="266.06" y="396.30" width="3.71" height="10.19" fill="#ffd05a"/><rect x="269.47" y="396.30" width="7.12" height="10.19" fill="#ffc849"/><rect x="276.29" y="396.30" width="7.12" height="10.19" fill="#ffb72d"/><rect x="283.11" y="396.30" width="3.71" height="10.19" fill="#fea41c"/><rect x="286.52" y="396.30" width="3.71" height="10.19" fill="#ffae22"/><rect x="289.93" y="396.30" width="17.35" height="10.19" fill="#ffc849"/><rect x="306.98" y="396.30" width="3.71" height="10.19" fill="#f48410"/><rect x="310.39" y="396.30" width="3.71" height="10.19" fill="#de520c"/><rect x="211.50" y="406.19" width="3.71" height="10.19" fill="#fc9a16"/><rect x="214.91" y="406.19" width="3.71" height="10.19" fill="#ffae22"/><rect x="218.32" y="406.19" width="3.71" height="10.19" fill="#f48410"/><rect x="221.73" y="406.19" width="3.71" height="10.19" fill="#ffc849"/><rect x="225.14" y="406.19" width="3.71" height="10.19" fill="#ffd05a"/><rect x="228.55" y="406.19" width="13.94" height="10.19" fill="#ffc849"/><rect x="242.19" y="406.19" width="3.71" height="10.19" fill="#ffd05a"/><rect x="245.60" y="406.19" width="3.71" height="10.19" fill="#ffc849"/><rect x="249.01" y="406.19" width="7.12" height="10.19" fill="#ffb72d"/><rect x="255.83" y="406.19" width="10.53" height="10.19" fill="#ffc849"/><rect x="266.06" y="406.19" width="3.71" height="10.19" fill="#ffd05a"/><rect x="269.47" y="406.19" width="7.12" height="10.19" fill="#ffc849"/><rect x="276.29" y="406.19" width="10.53" height="10.19" fill="#ffb72d"/><rect x="286.52" y="406.19" width="3.71" height="10.19" fill="#ffae22"/><rect x="289.93" y="406.19" width="17.35" height="10.19" fill="#ffc849"/><rect x="306.98" y="406.19" width="3.71" height="10.19" fill="#fc9a16"/><rect x="310.39" y="406.19" width="3.71" height="10.19" fill="#de520c"/><rect x="211.50" y="416.08" width="3.71" height="10.19" fill="#fc9a16"/><rect x="214.91" y="416.08" width="3.71" height="10.19" fill="#ffae22"/><rect x="218.32" y="416.08" width="3.71" height="10.19" fill="#f48410"/><rect x="221.73" y="416.08" width="3.71" height="10.19" fill="#ffc849"/><rect x="225.14" y="416.08" width="3.71" height="10.19" fill="#ffd05a"/><rect x="228.55" y="416.08" width="13.94" height="10.19" fill="#ffc849"/><rect x="242.19" y="416.08" width="3.71" height="10.19" fill="#ffd05a"/><rect x="245.60" y="416.08" width="3.71" height="10.19" fill="#ffc849"/><rect x="249.01" y="416.08" width="3.71" height="10.19" fill="#ffb72d"/><rect x="252.42" y="416.08" width="13.94" height="10.19" fill="#ffc849"/><rect x="266.06" y="416.08" width="3.71" height="10.19" fill="#ffd05a"/><rect x="269.47" y="416.08" width="7.12" height="10.19" fill="#ffc849"/><rect x="276.29" y="416.08" width="10.53" height="10.19" fill="#ffb72d"/><rect x="286.52" y="416.08" width="7.12" height="10.19" fill="#ffae22"/><rect x="293.34" y="416.08" width="13.94" height="10.19" fill="#ffc849"/><rect x="306.98" y="416.08" width="3.71" height="10.19" fill="#fc9a16"/><rect x="310.39" y="416.08" width="3.71" height="10.19" fill="#de520c"/><rect x="211.50" y="425.97" width="10.53" height="10.19" fill="#ffae22"/><rect x="221.73" y="425.97" width="3.71" height="10.19" fill="#ffc849"/><rect x="225.14" y="425.97" width="3.71" height="10.19" fill="#ffd05a"/><rect x="228.55" y="425.97" width="3.71" height="10.19" fill="#ffc849"/><rect x="231.96" y="425.97" width="7.12" height="10.19" fill="#ffb72d"/><rect x="238.78" y="425.97" width="3.71" height="10.19" fill="#ffc849"/><rect x="242.19" y="425.97" width="3.71" height="10.19" fill="#ffd05a"/><rect x="245.60" y="425.97" width="3.71" height="10.19" fill="#ffc849"/><rect x="249.01" y="425.97" width="3.71" height="10.19" fill="#ffae22"/><rect x="252.42" y="425.97" width="3.71" height="10.19" fill="#ffb72d"/><rect x="255.83" y="425.97" width="10.53" height="10.19" fill="#ffc849"/><rect x="266.06" y="425.97" width="3.71" height="10.19" fill="#ffd05a"/><rect x="269.47" y="425.97" width="7.12" height="10.19" fill="#ffc849"/><rect x="276.29" y="425.97" width="7.12" height="10.19" fill="#fea41c"/><rect x="283.11" y="425.97" width="3.71" height="10.19" fill="#ffb72d"/><rect x="286.52" y="425.97" width="7.12" height="10.19" fill="#ea6c0e"/><rect x="293.34" y="425.97" width="7.12" height="10.19" fill="#ffae22"/><rect x="300.16" y="425.97" width="7.12" height="10.19" fill="#ffc849"/><rect x="306.98" y="425.97" width="3.71" height="10.19" fill="#ffae22"/><rect x="310.39" y="425.97" width="3.71" height="10.19" fill="#ea6c0e"/><rect x="211.50" y="435.86" width="7.12" height="10.19" fill="#ffae22"/><rect x="218.32" y="435.86" width="7.12" height="10.19" fill="#ffc849"/><rect x="225.14" y="435.86" width="3.71" height="10.19" fill="#ffd05a"/><rect x="228.55" y="435.86" width="10.53" height="10.19" fill="#ffc849"/><rect x="238.78" y="435.86" width="3.71" height="10.19" fill="#ffb72d"/><rect x="242.19" y="435.86" width="3.71" height="10.19" fill="#ffd05a"/><rect x="245.60" y="435.86" width="3.71" height="10.19" fill="#ffc849"/><rect x="249.01" y="435.86" width="3.71" height="10.19" fill="#ffae22"/><rect x="252.42" y="435.86" width="3.71" height="10.19" fill="#ffb72d"/><rect x="255.83" y="435.86" width="10.53" height="10.19" fill="#ffc849"/><rect x="266.06" y="435.86" width="3.71" height="10.19" fill="#ffd05a"/><rect x="269.47" y="435.86" width="7.12" height="10.19" fill="#ffc849"/><rect x="276.29" y="435.86" width="10.53" height="10.19" fill="#fea41c"/><rect x="286.52" y="435.86" width="3.71" height="10.19" fill="#de520c"/><rect x="289.93" y="435.86" width="3.71" height="10.19" fill="#ea6c0e"/><rect x="293.34" y="435.86" width="3.71" height="10.19" fill="#fc9a16"/><rect x="296.75" y="435.86" width="3.71" height="10.19" fill="#f48410"/><rect x="300.16" y="435.86" width="3.71" height="10.19" fill="#ffae22"/><rect x="303.57" y="435.86" width="3.71" height="10.19" fill="#ffc849"/><rect x="306.98" y="435.86" width="7.12" height="10.19" fill="#fc9a16"/><rect x="211.50" y="445.75" width="7.12" height="10.19" fill="#ffae22"/><rect x="218.32" y="445.75" width="7.12" height="10.19" fill="#ffc849"/><rect x="225.14" y="445.75" width="3.71" height="10.19" fill="#ffd05a"/><rect x="228.55" y="445.75" width="13.94" height="10.19" fill="#ffc849"/><rect x="242.19" y="445.75" width="3.71" height="10.19" fill="#ffd05a"/><rect x="245.60" y="445.75" width="3.71" height="10.19" fill="#ffc849"/><rect x="249.01" y="445.75" width="3.71" height="10.19" fill="#fc9a16"/><rect x="252.42" y="445.75" width="3.71" height="10.19" fill="#ffae22"/><rect x="255.83" y="445.75" width="10.53" height="10.19" fill="#ffc849"/><rect x="266.06" y="445.75" width="3.71" height="10.19" fill="#ffd05a"/><rect x="269.47" y="445.75" width="7.12" height="10.19" fill="#ffc849"/><rect x="276.29" y="445.75" width="7.12" height="10.19" fill="#fea41c"/><rect x="283.11" y="445.75" width="3.71" height="10.19" fill="#fc9a16"/><rect x="286.52" y="445.75" width="3.71" height="10.19" fill="#de520c"/><rect x="289.93" y="445.75" width="10.53" height="10.19" fill="#f48410"/><rect x="300.16" y="445.75" width="7.12" height="10.19" fill="#ffae22"/><rect x="306.98" y="445.75" width="3.71" height="10.19" fill="#f48410"/><rect x="310.39" y="445.75" width="3.71" height="10.19" fill="#fc9a16"/><rect x="211.50" y="455.64" width="7.12" height="10.19" fill="#ffae22"/><rect x="218.32" y="455.64" width="7.12" height="10.19" fill="#ffc849"/><rect x="225.14" y="455.64" width="3.71" height="10.19" fill="#ffd05a"/><rect x="228.55" y="455.64" width="3.71" height="10.19" fill="#ffb72d"/><rect x="231.96" y="455.64" width="7.12" height="10.19" fill="#ffae22"/><rect x="238.78" y="455.64" width="3.71" height="10.19" fill="#ffc849"/><rect x="242.19" y="455.64" width="3.71" height="10.19" fill="#ffd05a"/><rect x="245.60" y="455.64" width="20.76" height="10.19" fill="#ffc849"/><rect x="266.06" y="455.64" width="3.71" height="10.19" fill="#ffd05a"/><rect x="269.47" y="455.64" width="7.12" height="10.19" fill="#ffc849"/><rect x="276.29" y="455.64" width="7.12" height="10.19" fill="#fc9a16"/><rect x="283.11" y="455.64" width="3.71" height="10.19" fill="#ffb72d"/><rect x="286.52" y="455.64" width="3.71" height="10.19" fill="#ffc849"/><rect x="289.93" y="455.64" width="3.71" height="10.19" fill="#fc9a16"/><rect x="293.34" y="455.64" width="7.12" height="10.19" fill="#ffae22"/><rect x="300.16" y="455.64" width="3.71" height="10.19" fill="#ea6c0e"/><rect x="303.57" y="455.64" width="7.12" height="10.19" fill="#de520c"/><rect x="310.39" y="455.64" width="3.71" height="10.19" fill="#fc9a16"/><rect x="211.50" y="465.53" width="7.12" height="10.19" fill="#ffae22"/><rect x="218.32" y="465.53" width="7.12" height="10.19" fill="#ffc849"/><rect x="225.14" y="465.53" width="3.71" height="10.19" fill="#ffd05a"/><rect x="228.55" y="465.53" width="13.94" height="10.19" fill="#ffc849"/><rect x="242.19" y="465.53" width="3.71" height="10.19" fill="#ffd05a"/><rect x="245.60" y="465.53" width="20.76" height="10.19" fill="#ffc849"/><rect x="266.06" y="465.53" width="3.71" height="10.19" fill="#ffd05a"/><rect x="269.47" y="465.53" width="7.12" height="10.19" fill="#ffc849"/><rect x="276.29" y="465.53" width="3.71" height="10.19" fill="#ffb72d"/><rect x="279.70" y="465.53" width="3.71" height="10.19" fill="#fea41c"/><rect x="283.11" y="465.53" width="7.12" height="10.19" fill="#ffc849"/><rect x="289.93" y="465.53" width="10.53" height="10.19" fill="#ffae22"/><rect x="300.16" y="465.53" width="3.71" height="10.19" fill="#ea6c0e"/><rect x="303.57" y="465.53" width="3.71" height="10.19" fill="#ffae22"/><rect x="306.98" y="465.53" width="3.71" height="10.19" fill="#de520c"/><rect x="310.39" y="465.53" width="3.71" height="10.19" fill="#fc9a16"/><rect x="211.50" y="475.42" width="7.12" height="10.19" fill="#ffae22"/><rect x="218.32" y="475.42" width="7.12" height="10.19" fill="#ffc849"/><rect x="225.14" y="475.42" width="3.71" height="10.19" fill="#ffd05a"/><rect x="228.55" y="475.42" width="13.94" height="10.19" fill="#ffc849"/><rect x="242.19" y="475.42" width="3.71" height="10.19" fill="#ffd05a"/><rect x="245.60" y="475.42" width="20.76" height="10.19" fill="#ffc849"/><rect x="266.06" y="475.42" width="3.71" height="10.19" fill="#ffd05a"/><rect x="269.47" y="475.42" width="7.12" height="10.19" fill="#ffc849"/><rect x="276.29" y="475.42" width="7.12" height="10.19" fill="#ffb72d"/><rect x="283.11" y="475.42" width="7.12" height="10.19" fill="#ffc849"/><rect x="289.93" y="475.42" width="3.71" height="10.19" fill="#ffae22"/><rect x="293.34" y="475.42" width="7.12" height="10.19" fill="#ea6c0e"/><rect x="300.16" y="475.42" width="3.71" height="10.19" fill="#de520c"/><rect x="303.57" y="475.42" width="3.71" height="10.19" fill="#ea6c0e"/><rect x="306.98" y="475.42" width="3.71" height="10.19" fill="#de520c"/><rect x="310.39" y="475.42" width="3.71" height="10.19" fill="#fc9a16"/><rect x="211.50" y="485.31" width="7.12" height="10.19" fill="#ffae22"/><rect x="218.32" y="485.31" width="7.12" height="10.19" fill="#ffc849"/><rect x="225.14" y="485.31" width="3.71" height="10.19" fill="#ffd05a"/><rect x="228.55" y="485.31" width="13.94" height="10.19" fill="#ffc849"/><rect x="242.19" y="485.31" width="3.71" height="10.19" fill="#ffd05a"/><rect x="245.60" y="485.31" width="20.76" height="10.19" fill="#ffc849"/><rect x="266.06" y="485.31" width="3.71" height="10.19" fill="#ffd05a"/><rect x="269.47" y="485.31" width="7.12" height="10.19" fill="#ffc849"/><rect x="276.29" y="485.31" width="7.12" height="10.19" fill="#ffb72d"/><rect x="283.11" y="485.31" width="10.53" height="10.19" fill="#ffc849"/><rect x="293.34" y="485.31" width="13.94" height="10.19" fill="#ffae22"/><rect x="306.98" y="485.31" width="7.12" height="10.19" fill="#fc9a16"/><rect x="211.50" y="495.20" width="7.12" height="10.19" fill="#ffae22"/><rect x="218.32" y="495.20" width="7.12" height="10.19" fill="#ffc849"/><rect x="225.14" y="495.20" width="3.71" height="10.19" fill="#ffd05a"/><rect x="228.55" y="495.20" width="13.94" height="10.19" fill="#ffc849"/><rect x="242.19" y="495.20" width="3.71" height="10.19" fill="#ffd05a"/><rect x="245.60" y="495.20" width="10.53" height="10.19" fill="#ffb72d"/><rect x="255.83" y="495.20" width="10.53" height="10.19" fill="#ffc849"/><rect x="266.06" y="495.20" width="3.71" height="10.19" fill="#ffd05a"/><rect x="269.47" y="495.20" width="7.12" height="10.19" fill="#ffc849"/><rect x="276.29" y="495.20" width="3.71" height="10.19" fill="#ffb72d"/><rect x="279.70" y="495.20" width="3.71" height="10.19" fill="#fea41c"/><rect x="283.11" y="495.20" width="3.71" height="10.19" fill="#ffb72d"/><rect x="286.52" y="495.20" width="7.12" height="10.19" fill="#ffc849"/><rect x="293.34" y="495.20" width="7.12" height="10.19" fill="#ffae22"/><rect x="300.16" y="495.20" width="7.12" height="10.19" fill="#ffc849"/><rect x="306.98" y="495.20" width="7.12" height="10.19" fill="#fc9a16"/><rect x="211.50" y="505.09" width="3.71" height="10.19" fill="#fc9a16"/><rect x="214.91" y="505.09" width="3.71" height="10.19" fill="#ffae22"/><rect x="218.32" y="505.09" width="7.12" height="10.19" fill="#ffc849"/><rect x="225.14" y="505.09" width="3.71" height="10.19" fill="#ffd05a"/><rect x="228.55" y="505.09" width="13.94" height="10.19" fill="#ffc849"/><rect x="242.19" y="505.09" width="3.71" height="10.19" fill="#ffd05a"/><rect x="245.60" y="505.09" width="3.71" height="10.19" fill="#ffb72d"/><rect x="249.01" y="505.09" width="3.71" height="10.19" fill="#ffae22"/><rect x="252.42" y="505.09" width="3.71" height="10.19" fill="#ffb72d"/><rect x="255.83" y="505.09" width="10.53" height="10.19" fill="#ffc849"/><rect x="266.06" y="505.09" width="3.71" height="10.19" fill="#ffd05a"/><rect x="269.47" y="505.09" width="7.12" height="10.19" fill="#ffc849"/><rect x="276.29" y="505.09" width="7.12" height="10.19" fill="#fea41c"/><rect x="283.11" y="505.09" width="3.71" height="10.19" fill="#ffb72d"/><rect x="286.52" y="505.09" width="20.76" height="10.19" fill="#ffae22"/><rect x="306.98" y="505.09" width="7.12" height="10.19" fill="#fc9a16"/></g>
<g shape-rendering="crispEdges"><rect x="313.80" y="396.30" width="3.68" height="10.19" fill="#fc9a16"/><rect x="317.18" y="396.30" width="3.68" height="10.19" fill="#ffae22"/><rect x="320.57" y="396.30" width="7.07" height="10.19" fill="#de520c"/><rect x="327.33" y="396.30" width="7.07" height="10.19" fill="#ea6c0e"/><rect x="334.10" y="396.30" width="7.07" height="10.19" fill="#ffae22"/><rect x="340.87" y="396.30" width="3.68" height="10.19" fill="#fc9a16"/><rect x="344.25" y="396.30" width="3.68" height="10.19" fill="#f48410"/><rect x="347.63" y="396.30" width="3.68" height="10.19" fill="#ea6c0e"/><rect x="351.02" y="396.30" width="3.68" height="10.19" fill="#f48410"/><rect x="354.40" y="396.30" width="3.68" height="10.19" fill="#ea6c0e"/><rect x="357.78" y="396.30" width="3.68" height="10.19" fill="#f48410"/><rect x="361.17" y="396.30" width="3.68" height="10.19" fill="#ffae22"/><rect x="364.55" y="396.30" width="3.68" height="10.19" fill="#ea6c0e"/><rect x="367.93" y="396.30" width="3.68" height="10.19" fill="#ffae22"/><rect x="371.32" y="396.30" width="3.68" height="10.19" fill="#f48410"/><rect x="374.70" y="396.30" width="10.45" height="10.19" fill="#de520c"/><rect x="384.85" y="396.30" width="3.68" height="10.19" fill="#ea6c0e"/><rect x="388.23" y="396.30" width="7.07" height="10.19" fill="#fc9a16"/><rect x="395.00" y="396.30" width="3.68" height="10.19" fill="#ffae22"/><rect x="398.38" y="396.30" width="3.68" height="10.19" fill="#fc9a16"/><rect x="401.77" y="396.30" width="3.68" height="10.19" fill="#ffae22"/><rect x="405.15" y="396.30" width="3.68" height="10.19" fill="#f48410"/><rect x="408.53" y="396.30" width="3.68" height="10.19" fill="#ffae22"/><rect x="411.92" y="396.30" width="3.68" height="10.19" fill="#f48410"/><rect x="313.80" y="406.19" width="3.68" height="10.19" fill="#fc9a16"/><rect x="317.18" y="406.19" width="3.68" height="10.19" fill="#ffae22"/><rect x="320.57" y="406.19" width="7.07" height="10.19" fill="#de520c"/><rect x="327.33" y="406.19" width="7.07" height="10.19" fill="#ea6c0e"/><rect x="334.10" y="406.19" width="3.68" height="10.19" fill="#ffae22"/><rect x="337.48" y="406.19" width="23.98" height="10.19" fill="#ea6c0e"/><rect x="361.17" y="406.19" width="3.68" height="10.19" fill="#ffae22"/><rect x="364.55" y="406.19" width="3.68" height="10.19" fill="#ea6c0e"/><rect x="367.93" y="406.19" width="7.07" height="10.19" fill="#f48410"/><rect x="374.70" y="406.19" width="10.45" height="10.19" fill="#ea6c0e"/><rect x="384.85" y="406.19" width="10.45" height="10.19" fill="#f48410"/><rect x="395.00" y="406.19" width="7.07" height="10.19" fill="#ffae22"/><rect x="401.77" y="406.19" width="3.68" height="10.19" fill="#fc9a16"/><rect x="405.15" y="406.19" width="3.68" height="10.19" fill="#f48410"/><rect x="408.53" y="406.19" width="3.68" height="10.19" fill="#ffae22"/><rect x="411.92" y="406.19" width="3.68" height="10.19" fill="#f48410"/><rect x="313.80" y="416.08" width="3.68" height="10.19" fill="#f48410"/><rect x="317.18" y="416.08" width="3.68" height="10.19" fill="#ffae22"/><rect x="320.57" y="416.08" width="7.07" height="10.19" fill="#cc380a"/><rect x="327.33" y="416.08" width="7.07" height="10.19" fill="#ea6c0e"/><rect x="334.10" y="416.08" width="3.68" height="10.19" fill="#ffae22"/><rect x="337.48" y="416.08" width="3.68" height="10.19" fill="#fc9a16"/><rect x="340.87" y="416.08" width="17.22" height="10.19" fill="#ea6c0e"/><rect x="357.78" y="416.08" width="3.68" height="10.19" fill="#f48410"/><rect x="361.17" y="416.08" width="3.68" height="10.19" fill="#ffae22"/><rect x="364.55" y="416.08" width="3.68" height="10.19" fill="#de520c"/><rect x="367.93" y="416.08" width="7.07" height="10.19" fill="#fc9a16"/><rect x="374.70" y="416.08" width="10.45" height="10.19" fill="#de520c"/><rect x="384.85" y="416.08" width="3.68" height="10.19" fill="#f48410"/><rect x="388.23" y="416.08" width="3.68" height="10.19" fill="#fc9a16"/><rect x="391.62" y="416.08" width="3.68" height="10.19" fill="#ffae22"/><rect x="395.00" y="416.08" width="7.07" height="10.19" fill="#ffc038"/><rect x="401.77" y="416.08" width="3.68" height="10.19" fill="#ffae22"/><rect x="405.15" y="416.08" width="3.68" height="10.19" fill="#fc9a16"/><rect x="408.53" y="416.08" width="3.68" height="10.19" fill="#ea6c0e"/><rect x="411.92" y="416.08" width="3.68" height="10.19" fill="#f48410"/><rect x="313.80" y="425.97" width="3.68" height="10.19" fill="#de520c"/><rect x="317.18" y="425.97" width="3.68" height="10.19" fill="#ea6c0e"/><rect x="320.57" y="425.97" width="3.68" height="10.19" fill="#cc380a"/><rect x="323.95" y="425.97" width="3.68" height="10.19" fill="#bc220a"/><rect x="327.33" y="425.97" width="3.68" height="10.19" fill="#de520c"/><rect x="330.72" y="425.97" width="3.68" height="10.19" fill="#ea6c0e"/><rect x="334.10" y="425.97" width="3.68" height="10.19" fill="#f48410"/><rect x="337.48" y="425.97" width="13.83" height="10.19" fill="#ffae22"/><rect x="351.02" y="425.97" width="10.45" height="10.19" fill="#fc9a16"/><rect x="361.17" y="425.97" width="3.68" height="10.19" fill="#ffae22"/><rect x="364.55" y="425.97" width="3.68" height="10.19" fill="#de520c"/><rect x="367.93" y="425.97" width="7.07" height="10.19" fill="#fc9a16"/><rect x="374.70" y="425.97" width="3.68" height="10.19" fill="#de520c"/><rect x="378.08" y="425.97" width="3.68" height="10.19" fill="#fc9a16"/><rect x="381.47" y="425.97" width="3.68" height="10.19" fill="#de520c"/><rect x="384.85" y="425.97" width="3.68" height="10.19" fill="#f48410"/><rect x="388.23" y="425.97" width="3.68" height="10.19" fill="#fc9a16"/><rect x="391.62" y="425.97" width="10.45" height="10.19" fill="#ffc038"/><rect x="401.77" y="425.97" width="3.68" height="10.19" fill="#ffae22"/><rect x="405.15" y="425.97" width="3.68" height="10.19" fill="#fc9a16"/><rect x="408.53" y="425.97" width="3.68" height="10.19" fill="#de520c"/><rect x="411.92" y="425.97" width="3.68" height="10.19" fill="#f48410"/><rect x="313.80" y="435.86" width="3.68" height="10.19" fill="#fc9a16"/><rect x="317.18" y="435.86" width="3.68" height="10.19" fill="#ffae22"/><rect x="320.57" y="435.86" width="10.45" height="10.19" fill="#cc380a"/><rect x="330.72" y="435.86" width="3.68" height="10.19" fill="#ea6c0e"/><rect x="334.10" y="435.86" width="10.45" height="10.19" fill="#ffae22"/><rect x="344.25" y="435.86" width="3.68" height="10.19" fill="#f48410"/><rect x="347.63" y="435.86" width="13.83" height="10.19" fill="#ea6c0e"/><rect x="361.17" y="435.86" width="3.68" height="10.19" fill="#ffae22"/><rect x="364.55" y="435.86" width="3.68" height="10.19" fill="#ea6c0e"/><rect x="367.93" y="435.86" width="3.68" height="10.19" fill="#ffae22"/><rect x="371.32" y="435.86" width="3.68" height="10.19" fill="#fc9a16"/><rect x="374.70" y="435.86" width="7.07" height="10.19" fill="#ea6c0e"/><rect x="381.47" y="435.86" width="3.68" height="10.19" fill="#de520c"/><rect x="384.85" y="435.86" width="3.68" height="10.19" fill="#f48410"/><rect x="388.23" y="435.86" width="3.68" height="10.19" fill="#ffae22"/><rect x="391.62" y="435.86" width="7.07" height="10.19" fill="#ffc038"/><rect x="398.38" y="435.86" width="3.68" height="10.19" fill="#ffae22"/><rect x="401.77" y="435.86" width="13.83" height="10.19" fill="#f48410"/><rect x="313.80" y="445.75" width="7.07" height="10.19" fill="#fc9a16"/><rect x="320.57" y="445.75" width="7.07" height="10.19" fill="#cc380a"/><rect x="327.33" y="445.75" width="3.68" height="10.19" fill="#ea6c0e"/><rect x="330.72" y="445.75" width="3.68" height="10.19" fill="#f48410"/><rect x="334.10" y="445.75" width="10.45" height="10.19" fill="#ffae22"/><rect x="344.25" y="445.75" width="3.68" height="10.19" fill="#fc9a16"/><rect x="347.63" y="445.75" width="7.07" height="10.19" fill="#f48410"/><rect x="354.40" y="445.75" width="7.07" height="10.19" fill="#fc9a16"/><rect x="361.17" y="445.75" width="3.68" height="10.19" fill="#ffae22"/><rect x="364.55" y="445.75" width="3.68" height="10.19" fill="#ea6c0e"/><rect x="367.93" y="445.75" width="3.68" height="10.19" fill="#ffae22"/><rect x="371.32" y="445.75" width="3.68" height="10.19" fill="#fc9a16"/><rect x="374.70" y="445.75" width="3.68" height="10.19" fill="#de520c"/><rect x="378.08" y="445.75" width="3.68" height="10.19" fill="#f48410"/><rect x="381.47" y="445.75" width="3.68" height="10.19" fill="#de520c"/><rect x="384.85" y="445.75" width="3.68" height="10.19" fill="#f48410"/><rect x="388.23" y="445.75" width="13.83" height="10.19" fill="#ffae22"/><rect x="401.77" y="445.75" width="3.68" height="10.19" fill="#fc9a16"/><rect x="405.15" y="445.75" width="10.45" height="10.19" fill="#f48410"/><rect x="313.80" y="455.64" width="7.07" height="10.19" fill="#ffae22"/><rect x="320.57" y="455.64" width="7.07" height="10.19" fill="#f48410"/><rect x="327.33" y="455.64" width="3.68" height="10.19" fill="#ea6c0e"/><rect x="330.72" y="455.64" width="3.68" height="10.19" fill="#f48410"/><rect x="334.10" y="455.64" width="3.68" height="10.19" fill="#ffae22"/><rect x="337.48" y="455.64" width="17.22" height="10.19" fill="#de520c"/><rect x="354.40" y="455.64" width="7.07" height="10.19" fill="#ea6c0e"/><rect x="361.17" y="455.64" width="3.68" height="10.19" fill="#fc9a16"/><rect x="364.55" y="455.64" width="3.68" height="10.19" fill="#f48410"/><rect x="367.93" y="455.64" width="3.68" height="10.19" fill="#ffae22"/><rect x="371.32" y="455.64" width="3.68" height="10.19" fill="#f48410"/><rect x="374.70" y="455.64" width="10.45" height="10.19" fill="#ea6c0e"/><rect x="384.85" y="455.64" width="3.68" height="10.19" fill="#f48410"/><rect x="388.23" y="455.64" width="3.68" height="10.19" fill="#fc9a16"/><rect x="391.62" y="455.64" width="3.68" height="10.19" fill="#ffae22"/><rect x="395.00" y="455.64" width="3.68" height="10.19" fill="#f48410"/><rect x="398.38" y="455.64" width="3.68" height="10.19" fill="#ea6c0e"/><rect x="401.77" y="455.64" width="10.45" height="10.19" fill="#f48410"/><rect x="411.92" y="455.64" width="3.68" height="10.19" fill="#ffae22"/><rect x="313.80" y="465.53" width="3.68" height="10.19" fill="#fc9a16"/><rect x="317.18" y="465.53" width="3.68" height="10.19" fill="#ffae22"/><rect x="320.57" y="465.53" width="7.07" height="10.19" fill="#f48410"/><rect x="327.33" y="465.53" width="3.68" height="10.19" fill="#ea6c0e"/><rect x="330.72" y="465.53" width="3.68" height="10.19" fill="#f48410"/><rect x="334.10" y="465.53" width="3.68" height="10.19" fill="#ffae22"/><rect x="337.48" y="465.53" width="17.22" height="10.19" fill="#de520c"/><rect x="354.40" y="465.53" width="7.07" height="10.19" fill="#ea6c0e"/><rect x="361.17" y="465.53" width="3.68" height="10.19" fill="#f48410"/><rect x="364.55" y="465.53" width="20.60" height="10.19" fill="#ea6c0e"/><rect x="384.85" y="465.53" width="3.68" height="10.19" fill="#f48410"/><rect x="388.23" y="465.53" width="3.68" height="10.19" fill="#fc9a16"/><rect x="391.62" y="465.53" width="3.68" height="10.19" fill="#f48410"/><rect x="395.00" y="465.53" width="3.68" height="10.19" fill="#ea6c0e"/><rect x="398.38" y="465.53" width="3.68" height="10.19" fill="#f48410"/><rect x="401.77" y="465.53" width="3.68" height="10.19" fill="#ea6c0e"/><rect x="405.15" y="465.53" width="7.07" height="10.19" fill="#f48410"/><rect x="411.92" y="465.53" width="3.68" height="10.19" fill="#ffae22"/><rect x="313.80" y="475.42" width="3.68" height="10.19" fill="#ffae22"/><rect x="317.18" y="475.42" width="3.68" height="10.19" fill="#ffc038"/><rect x="320.57" y="475.42" width="7.07" height="10.19" fill="#ffae22"/><rect x="327.33" y="475.42" width="3.68" height="10.19" fill="#ea6c0e"/><rect x="330.72" y="475.42" width="3.68" height="10.19" fill="#f48410"/><rect x="334.10" y="475.42" width="3.68" height="10.19" fill="#ffae22"/><rect x="337.48" y="475.42" width="17.22" height="10.19" fill="#de520c"/><rect x="354.40" y="475.42" width="7.07" height="10.19" fill="#ea6c0e"/><rect x="361.17" y="475.42" width="3.68" height="10.19" fill="#f48410"/><rect x="364.55" y="475.42" width="3.68" height="10.19" fill="#ea6c0e"/><rect x="367.93" y="475.42" width="7.07" height="10.19" fill="#f48410"/><rect x="374.70" y="475.42" width="7.07" height="10.19" fill="#ea6c0e"/><rect x="381.47" y="475.42" width="3.68" height="10.19" fill="#f48410"/><rect x="384.85" y="475.42" width="7.07" height="10.19" fill="#ffae22"/><rect x="391.62" y="475.42" width="3.68" height="10.19" fill="#f48410"/><rect x="395.00" y="475.42" width="7.07" height="10.19" fill="#ea6c0e"/><rect x="401.77" y="475.42" width="10.45" height="10.19" fill="#f48410"/><rect x="411.92" y="475.42" width="3.68" height="10.19" fill="#ffae22"/><rect x="313.80" y="485.31" width="7.07" height="10.19" fill="#ffae22"/><rect x="320.57" y="485.31" width="7.07" height="10.19" fill="#de520c"/><rect x="327.33" y="485.31" width="3.68" height="10.19" fill="#ea6c0e"/><rect x="330.72" y="485.31" width="3.68" height="10.19" fill="#f48410"/><rect x="334.10" y="485.31" width="3.68" height="10.19" fill="#fc9a16"/><rect x="337.48" y="485.31" width="10.45" height="10.19" fill="#ea6c0e"/><rect x="347.63" y="485.31" width="7.07" height="10.19" fill="#de520c"/><rect x="354.40" y="485.31" width="3.68" height="10.19" fill="#ea6c0e"/><rect x="357.78" y="485.31" width="3.68" height="10.19" fill="#f48410"/><rect x="361.17" y="485.31" width="3.68" height="10.19" fill="#fc9a16"/><rect x="364.55" y="485.31" width="3.68" height="10.19" fill="#ea6c0e"/><rect x="367.93" y="485.31" width="7.07" height="10.19" fill="#f48410"/><rect x="374.70" y="485.31" width="10.45" height="10.19" fill="#cc380a"/><rect x="384.85" y="485.31" width="3.68" height="10.19" fill="#fc9a16"/><rect x="388.23" y="485.31" width="3.68" height="10.19" fill="#ffae22"/><rect x="391.62" y="485.31" width="10.45" height="10.19" fill="#fc9a16"/><rect x="401.77" y="485.31" width="7.07" height="10.19" fill="#f48410"/><rect x="408.53" y="485.31" width="3.68" height="10.19" fill="#ea6c0e"/><rect x="411.92" y="485.31" width="3.68" height="10.19" fill="#f48410"/><rect x="313.80" y="495.20" width="7.07" height="10.19" fill="#f48410"/><rect x="320.57" y="495.20" width="13.83" height="10.19" fill="#ea6c0e"/><rect x="334.10" y="495.20" width="10.45" height="10.19" fill="#f48410"/><rect x="344.25" y="495.20" width="7.07" height="10.19" fill="#ea6c0e"/><rect x="351.02" y="495.20" width="3.68" height="10.19" fill="#de520c"/><rect x="354.40" y="495.20" width="7.07" height="10.19" fill="#ea6c0e"/><rect x="361.17" y="495.20" width="3.68" height="10.19" fill="#fc9a16"/><rect x="364.55" y="495.20" width="3.68" height="10.19" fill="#ea6c0e"/><rect x="367.93" y="495.20" width="7.07" height="10.19" fill="#f48410"/><rect x="374.70" y="495.20" width="10.45" height="10.19" fill="#ea6c0e"/><rect x="384.85" y="495.20" width="10.45" height="10.19" fill="#f48410"/><rect x="395.00" y="495.20" width="3.68" height="10.19" fill="#fc9a16"/><rect x="398.38" y="495.20" width="3.68" height="10.19" fill="#ffae22"/><rect x="401.77" y="495.20" width="3.68" height="10.19" fill="#fc9a16"/><rect x="405.15" y="495.20" width="3.68" height="10.19" fill="#f48410"/><rect x="408.53" y="495.20" width="3.68" height="10.19" fill="#de520c"/><rect x="411.92" y="495.20" width="3.68" height="10.19" fill="#ffae22"/><rect x="313.80" y="505.09" width="3.68" height="10.19" fill="#fc9a16"/><rect x="317.18" y="505.09" width="3.68" height="10.19" fill="#f48410"/><rect x="320.57" y="505.09" width="10.45" height="10.19" fill="#ea6c0e"/><rect x="330.72" y="505.09" width="7.07" height="10.19" fill="#fc9a16"/><rect x="337.48" y="505.09" width="3.68" height="10.19" fill="#f48410"/><rect x="340.87" y="505.09" width="3.68" height="10.19" fill="#fc9a16"/><rect x="344.25" y="505.09" width="3.68" height="10.19" fill="#ea6c0e"/><rect x="347.63" y="505.09" width="7.07" height="10.19" fill="#de520c"/><rect x="354.40" y="505.09" width="3.68" height="10.19" fill="#f48410"/><rect x="357.78" y="505.09" width="3.68" height="10.19" fill="#ea6c0e"/><rect x="361.17" y="505.09" width="3.68" height="10.19" fill="#fc9a16"/><rect x="364.55" y="505.09" width="23.98" height="10.19" fill="#ea6c0e"/><rect x="388.23" y="505.09" width="3.68" height="10.19" fill="#f48410"/><rect x="391.62" y="505.09" width="13.83" height="10.19" fill="#fc9a16"/><rect x="405.15" y="505.09" width="3.68" height="10.19" fill="#f48410"/><rect x="408.53" y="505.09" width="3.68" height="10.19" fill="#de520c"/><rect x="411.92" y="505.09" width="3.68" height="10.19" fill="#ffae22"/></g>
<g shape-rendering="crispEdges"><rect x="422.90" y="396.30" width="7.12" height="10.19" fill="#cc380a"/><rect x="429.72" y="396.30" width="3.71" height="10.19" fill="#ea6c0e"/><rect x="433.12" y="396.30" width="3.71" height="10.19" fill="#f48410"/><rect x="436.53" y="396.30" width="3.71" height="10.19" fill="#ffae22"/><rect x="439.94" y="396.30" width="24.15" height="10.19" fill="#ffc849"/><rect x="463.79" y="396.30" width="3.71" height="10.19" fill="#ffae22"/><rect x="422.90" y="406.19" width="7.12" height="10.19" fill="#de520c"/><rect x="429.72" y="406.19" width="3.71" height="10.19" fill="#ea6c0e"/><rect x="433.12" y="406.19" width="3.71" height="10.19" fill="#f48410"/><rect x="436.53" y="406.19" width="3.71" height="10.19" fill="#ffae22"/><rect x="439.94" y="406.19" width="3.71" height="10.19" fill="#f48410"/><rect x="443.35" y="406.19" width="13.93" height="10.19" fill="#ffc849"/><rect x="456.98" y="406.19" width="3.71" height="10.19" fill="#ffae22"/><rect x="460.38" y="406.19" width="3.71" height="10.19" fill="#ffc849"/><rect x="463.79" y="406.19" width="3.71" height="10.19" fill="#ffae22"/><rect x="422.90" y="416.08" width="3.71" height="10.19" fill="#de520c"/><rect x="426.31" y="416.08" width="3.71" height="10.19" fill="#ea6c0e"/><rect x="429.72" y="416.08" width="3.71" height="10.19" fill="#de520c"/><rect x="433.12" y="416.08" width="3.71" height="10.19" fill="#ea6c0e"/><rect x="436.53" y="416.08" width="3.71" height="10.19" fill="#fc9a16"/><rect x="439.94" y="416.08" width="17.34" height="10.19" fill="#ffae22"/><rect x="456.98" y="416.08" width="3.71" height="10.19" fill="#fc9a16"/><rect x="460.38" y="416.08" width="7.12" height="10.19" fill="#ffae22"/><rect x="422.90" y="425.97" width="7.12" height="10.19" fill="#ea6c0e"/><rect x="429.72" y="425.97" width="3.71" height="10.19" fill="#f48410"/><rect x="433.12" y="425.97" width="3.71" height="10.19" fill="#fc9a16"/><rect x="436.53" y="425.97" width="3.71" height="10.19" fill="#ea6c0e"/><rect x="439.94" y="425.97" width="7.12" height="10.19" fill="#ffd05a"/><rect x="446.75" y="425.97" width="10.52" height="10.19" fill="#ffae22"/><rect x="456.98" y="425.97" width="3.71" height="10.19" fill="#f48410"/><rect x="460.38" y="425.97" width="3.71" height="10.19" fill="#ffc849"/><rect x="463.79" y="425.97" width="3.71" height="10.19" fill="#ffae22"/><rect x="422.90" y="435.86" width="3.71" height="10.19" fill="#de520c"/><rect x="426.31" y="435.86" width="3.71" height="10.19" fill="#ea6c0e"/><rect x="429.72" y="435.86" width="3.71" height="10.19" fill="#cc380a"/><rect x="433.12" y="435.86" width="3.71" height="10.19" fill="#fc9a16"/><rect x="436.53" y="435.86" width="3.71" height="10.19" fill="#ffae22"/><rect x="439.94" y="435.86" width="7.12" height="10.19" fill="#ffc849"/><rect x="446.75" y="435.86" width="3.71" height="10.19" fill="#ffae22"/><rect x="450.16" y="435.86" width="3.71" height="10.19" fill="#fc9a16"/><rect x="453.57" y="435.86" width="7.12" height="10.19" fill="#ffae22"/><rect x="460.38" y="435.86" width="3.71" height="10.19" fill="#ffc849"/><rect x="463.79" y="435.86" width="3.71" height="10.19" fill="#ffae22"/><rect x="422.90" y="445.75" width="7.12" height="10.19" fill="#cc380a"/><rect x="429.72" y="445.75" width="7.12" height="10.19" fill="#f48410"/><rect x="436.53" y="445.75" width="3.71" height="10.19" fill="#ffae22"/><rect x="439.94" y="445.75" width="7.12" height="10.19" fill="#ffc849"/><rect x="446.75" y="445.75" width="10.52" height="10.19" fill="#ffae22"/><rect x="456.98" y="445.75" width="3.71" height="10.19" fill="#f48410"/><rect x="460.38" y="445.75" width="3.71" height="10.19" fill="#ffc849"/><rect x="463.79" y="445.75" width="3.71" height="10.19" fill="#ffae22"/><rect x="422.90" y="455.64" width="3.71" height="10.19" fill="#ea6c0e"/><rect x="426.31" y="455.64" width="3.71" height="10.19" fill="#f48410"/><rect x="429.72" y="455.64" width="3.71" height="10.19" fill="#ffae22"/><rect x="433.12" y="455.64" width="13.93" height="10.19" fill="#ffc849"/><rect x="446.75" y="455.64" width="3.71" height="10.19" fill="#ea6c0e"/><rect x="450.16" y="455.64" width="3.71" height="10.19" fill="#de520c"/><rect x="453.57" y="455.64" width="3.71" height="10.19" fill="#ea6c0e"/><rect x="456.98" y="455.64" width="3.71" height="10.19" fill="#ffae22"/><rect x="460.38" y="455.64" width="3.71" height="10.19" fill="#ffc849"/><rect x="463.79" y="455.64" width="3.71" height="10.19" fill="#ffae22"/><rect x="422.90" y="465.53" width="3.71" height="10.19" fill="#ea6c0e"/><rect x="426.31" y="465.53" width="3.71" height="10.19" fill="#fc9a16"/><rect x="429.72" y="465.53" width="3.71" height="10.19" fill="#ea6c0e"/><rect x="433.12" y="465.53" width="3.71" height="10.19" fill="#ffc849"/><rect x="436.53" y="465.53" width="3.71" height="10.19" fill="#ffae22"/><rect x="439.94" y="465.53" width="3.71" height="10.19" fill="#fc9a16"/><rect x="443.35" y="465.53" width="3.71" height="10.19" fill="#ffc849"/><rect x="446.75" y="465.53" width="3.71" height="10.19" fill="#ea6c0e"/><rect x="450.16" y="465.53" width="3.71" height="10.19" fill="#de520c"/><rect x="453.57" y="465.53" width="3.71" height="10.19" fill="#f48410"/><rect x="456.98" y="465.53" width="3.71" height="10.19" fill="#ffae22"/><rect x="460.38" y="465.53" width="3.71" height="10.19" fill="#ffc849"/><rect x="463.79" y="465.53" width="3.71" height="10.19" fill="#ffae22"/><rect x="422.90" y="475.42" width="3.71" height="10.19" fill="#ea6c0e"/><rect x="426.31" y="475.42" width="3.71" height="10.19" fill="#fc9a16"/><rect x="429.72" y="475.42" width="3.71" height="10.19" fill="#ea6c0e"/><rect x="433.12" y="475.42" width="7.12" height="10.19" fill="#ffc849"/><rect x="439.94" y="475.42" width="3.71" height="10.19" fill="#ffae22"/><rect x="443.35" y="475.42" width="3.71" height="10.19" fill="#fc9a16"/><rect x="446.75" y="475.42" width="3.71" height="10.19" fill="#ea6c0e"/><rect x="450.16" y="475.42" width="3.71" height="10.19" fill="#de520c"/><rect x="453.57" y="475.42" width="3.71" height="10.19" fill="#f48410"/><rect x="456.98" y="475.42" width="3.71" height="10.19" fill="#ffae22"/><rect x="460.38" y="475.42" width="3.71" height="10.19" fill="#ffc849"/><rect x="463.79" y="475.42" width="3.71" height="10.19" fill="#ffae22"/><rect x="422.90" y="485.31" width="3.71" height="10.19" fill="#de520c"/><rect x="426.31" y="485.31" width="3.71" height="10.19" fill="#f48410"/><rect x="429.72" y="485.31" width="3.71" height="10.19" fill="#ea6c0e"/><rect x="433.12" y="485.31" width="7.12" height="10.19" fill="#ffc849"/><rect x="439.94" y="485.31" width="7.12" height="10.19" fill="#ffae22"/><rect x="446.75" y="485.31" width="3.71" height="10.19" fill="#ea6c0e"/><rect x="450.16" y="485.31" width="3.71" height="10.19" fill="#de520c"/><rect x="453.57" y="485.31" width="3.71" height="10.19" fill="#fc9a16"/><rect x="456.98" y="485.31" width="3.71" height="10.19" fill="#ffae22"/><rect x="460.38" y="485.31" width="3.71" height="10.19" fill="#ffc849"/><rect x="463.79" y="485.31" width="3.71" height="10.19" fill="#ffae22"/><rect x="422.90" y="495.20" width="7.12" height="10.19" fill="#cc380a"/><rect x="429.72" y="495.20" width="3.71" height="10.19" fill="#ea6c0e"/><rect x="433.12" y="495.20" width="3.71" height="10.19" fill="#ffc849"/><rect x="436.53" y="495.20" width="3.71" height="10.19" fill="#ffae22"/><rect x="439.94" y="495.20" width="3.71" height="10.19" fill="#ffc849"/><rect x="443.35" y="495.20" width="3.71" height="10.19" fill="#ffae22"/><rect x="446.75" y="495.20" width="3.71" height="10.19" fill="#fc9a16"/><rect x="450.16" y="495.20" width="3.71" height="10.19" fill="#ea6c0e"/><rect x="453.57" y="495.20" width="3.71" height="10.19" fill="#fc9a16"/><rect x="456.98" y="495.20" width="3.71" height="10.19" fill="#ffae22"/><rect x="460.38" y="495.20" width="3.71" height="10.19" fill="#ffc849"/><rect x="463.79" y="495.20" width="3.71" height="10.19" fill="#ffae22"/><rect x="422.90" y="505.09" width="3.71" height="10.19" fill="#cc380a"/><rect x="426.31" y="505.09" width="3.71" height="10.19" fill="#de520c"/><rect x="429.72" y="505.09" width="3.71" height="10.19" fill="#fc9a16"/><rect x="433.12" y="505.09" width="3.71" height="10.19" fill="#ffc849"/><rect x="436.53" y="505.09" width="3.71" height="10.19" fill="#ffae22"/><rect x="439.94" y="505.09" width="3.71" height="10.19" fill="#ffc849"/><rect x="443.35" y="505.09" width="3.71" height="10.19" fill="#ffae22"/><rect x="446.75" y="505.09" width="3.71" height="10.19" fill="#fc9a16"/><rect x="450.16" y="505.09" width="3.71" height="10.19" fill="#ea6c0e"/><rect x="453.57" y="505.09" width="3.71" height="10.19" fill="#fc9a16"/><rect x="456.98" y="505.09" width="3.71" height="10.19" fill="#ffae22"/><rect x="460.38" y="505.09" width="3.71" height="10.19" fill="#ffc849"/><rect x="463.79" y="505.09" width="3.71" height="10.19" fill="#ffae22"/></g>
<rect x="211.5" y="396.3" width="102.30" height="118.68" fill="none" stroke="#1a1208" stroke-width="0.9"/>
<rect x="313.8" y="396.3" width="101.50" height="118.68" fill="none" stroke="#1a1208" stroke-width="0.9"/>
<rect x="422.9" y="396.3" width="44.30" height="118.68" fill="none" stroke="#1a1208" stroke-width="0.9"/>
<rect x="211.5" y="289.7" width="102.3" height="17" fill="#2db665"/>
<rect x="313.8" y="289.7" width="102" height="17" fill="#e9595c"/>
<rect x="422.9" y="289.7" width="44.3" height="17" fill="#2089ee"/>
<text x="262.6" y="285.8" font-size="10.2" text-anchor="middle" stroke="#111">Tumors</text>
<text x="364.6" y="285.8" font-size="10.2" text-anchor="middle" stroke="#111">Organoids</text>
<text x="445.2" y="285.8" font-size="10.2" text-anchor="middle" stroke="#111">Xeno (h)</text>
<text x="77.8" y="303.6" font-size="10.2" font-weight="bold" fill="#000" stroke="#000" textLength="115.2" lengthAdjust="spacingAndGlyphs">HALLMARK signatures:</text>
<text x="207.2" y="319.6" font-size="10.2" text-anchor="end" stroke="#111">TNFA SIGNALING VIA NFKB</text>
<text x="207.2" y="329.6" font-size="10.2" text-anchor="end" stroke="#111">INTERFERON GAMMA RESPONSE</text>
<text x="207.2" y="339.6" font-size="10.2" text-anchor="end" stroke="#111">ALLOGRAFT REJECTION</text>
<text x="207.2" y="349.6" font-size="10.2" text-anchor="end" stroke="#111">INFLAMMATORY RESPONSE</text>
<text x="207.2" y="359.6" font-size="10.2" text-anchor="end" stroke="#111">IL6–JAK–STAT3 SIGNALING</text>
<text x="207.2" y="369.6" font-size="10.2" text-anchor="end" stroke="#111">ANGIOGENESIS</text>
<text x="207.2" y="379.6" font-size="10.2" text-anchor="end" stroke="#111">EMT</text>
<text x="207.2" y="389.6" font-size="10.2" text-anchor="end" stroke="#111">KRAS SIGNALING UP</text>
<text x="207.2" y="404.4" font-size="10.2" text-anchor="end" stroke="#111">PEROXISOME</text>
<text x="207.2" y="414.4" font-size="10.2" text-anchor="end" stroke="#111">OXIDATIVE PHOSPHORYLATION</text>
<text x="207.2" y="424.4" font-size="10.2" text-anchor="end" stroke="#111">FATTY ACID METABOLISM</text>
<text x="207.2" y="434.4" font-size="10.2" text-anchor="end" stroke="#111">REACTIVE OX. SPECIES PATHWAY</text>
<text x="207.2" y="444.4" font-size="10.2" text-anchor="end" stroke="#111">CHOLESTEROL HOMEOSTASIS</text>
<text x="207.2" y="454.4" font-size="10.2" text-anchor="end" stroke="#111">GLYCOLYSIS</text>
<text x="207.2" y="464.4" font-size="10.2" text-anchor="end" stroke="#111">MYC TARGETS V2</text>
<text x="207.2" y="474.4" font-size="10.2" text-anchor="end" stroke="#111">MYC TARGETS V1</text>
<text x="207.2" y="484.4" font-size="10.2" text-anchor="end" stroke="#111">E2F TARGETS</text>
<text x="207.2" y="494.4" font-size="10.2" text-anchor="end" stroke="#111">DNA REPAIR</text>
<text x="207.2" y="504.4" font-size="10.2" text-anchor="end" stroke="#111">MTORC1 SIGNALING</text>
<text x="207.2" y="514.4" font-size="10.2" text-anchor="end" stroke="#111">UNFOLDED PROTEIN RESPONSE</text>
<defs><linearGradient id="ck" x1="0" x2="1" y1="0" y2="0"><stop offset="0.000" stop-color="#ffe290"/><stop offset="0.111" stop-color="#ffd05a"/><stop offset="0.222" stop-color="#ffc038"/><stop offset="0.333" stop-color="#ffae22"/><stop offset="0.444" stop-color="#fc9a16"/><stop offset="0.556" stop-color="#f48410"/><stop offset="0.667" stop-color="#ea6c0e"/><stop offset="0.778" stop-color="#de520c"/><stop offset="0.889" stop-color="#cc380a"/><stop offset="1.000" stop-color="#bc220a"/></linearGradient></defs>
<rect x="394" y="532.5" width="72.8" height="8.6" fill="url(#ck)"/>
<line x1="396.8" y1="532.5" x2="396.8" y2="541.1" stroke="#fff" stroke-width="0.5" stroke-opacity="0.7"/>
<line x1="413.7" y1="532.5" x2="413.7" y2="541.1" stroke="#fff" stroke-width="0.5" stroke-opacity="0.7"/>
<line x1="430.6" y1="532.5" x2="430.6" y2="541.1" stroke="#fff" stroke-width="0.5" stroke-opacity="0.7"/>
<line x1="447.5" y1="532.5" x2="447.5" y2="541.1" stroke="#fff" stroke-width="0.5" stroke-opacity="0.7"/>
<line x1="464.4" y1="532.5" x2="464.4" y2="541.1" stroke="#fff" stroke-width="0.5" stroke-opacity="0.7"/>
<text x="396.9" y="528.5" font-size="10" text-anchor="middle" stroke="#111">−2</text>
<text x="413.5" y="528.5" font-size="10" text-anchor="middle" stroke="#111">−1</text>
<text x="431.5" y="528.5" font-size="10" text-anchor="middle" stroke="#111">0</text>
<text x="448.1" y="528.5" font-size="10" text-anchor="middle" stroke="#111">1</text>
<text x="464.4" y="528.5" font-size="10" text-anchor="middle" stroke="#111">2</text>
<text x="309.7" y="540.2" font-size="10.2" stroke="#111" textLength="78.3" lengthAdjust="spacingAndGlyphs">Enrichment score</text>
<path d="M145.2 616.0L144.37 568.21A47.8 47.8 0 0 1 181.49 584.89Z" fill="#f8b133"/><path d="M145.2 616.0L181.49 584.89A47.8 47.8 0 0 1 143.03 663.75Z" fill="#4b4bf2"/><path d="M145.2 616.0L143.03 663.75A47.8 47.8 0 0 1 108.91 647.11Z" fill="#ffc4ce"/><path d="M145.2 616.0L108.91 647.11A47.8 47.8 0 0 1 109.79 583.89Z" fill="#349c34"/><path d="M145.2 616.0L109.79 583.89A47.8 47.8 0 0 1 144.37 568.21Z" fill="#999999"/>
<path d="M254.6 616.3L253.76 568.41A47.9 47.9 0 0 1 263.74 569.28Z" fill="#f8b133"/><path d="M254.6 616.3L263.74 569.28A47.9 47.9 0 0 1 283.43 654.55Z" fill="#4b4bf2"/><path d="M254.6 616.3L283.43 654.55A47.9 47.9 0 0 1 227.13 655.54Z" fill="#ffc4ce"/><path d="M254.6 616.3L227.13 655.54A47.9 47.9 0 0 1 234.36 572.89Z" fill="#349c34"/><path d="M254.6 616.3L234.36 572.89A47.9 47.9 0 0 1 253.76 568.41Z" fill="#999999"/>
<path d="M363.3 616.9L362.46 568.91A48.0 48.0 0 0 1 372.46 569.78Z" fill="#f8b133"/><path d="M363.3 616.9L372.46 569.78A48.0 48.0 0 0 1 411.12 621.08Z" fill="#4b4bf2"/><path d="M363.3 616.9L411.12 621.08A48.0 48.0 0 0 1 409.20 630.93Z" fill="#ffc4ce"/><path d="M363.3 616.9L409.20 630.93A48.0 48.0 0 1 1 362.46 568.91Z" fill="#999999"/>
<path d="M471.6 616.5L470.77 568.71A47.8 47.8 0 0 1 518.94 609.91Z" fill="#f8b133"/><path d="M471.6 616.5L518.94 609.91A47.8 47.8 0 0 1 460.97 663.10Z" fill="#4b4bf2"/><path d="M471.6 616.5L460.97 663.10A47.8 47.8 0 0 1 424.06 611.57Z" fill="#ffc4ce"/><path d="M471.6 616.5L424.06 611.57A47.8 47.8 0 0 1 470.77 568.71Z" fill="#999999"/>
<text x="130.2" y="585.7" font-size="10.2" text-anchor="middle" stroke="#111">13%</text>
<text x="161.5" y="585.7" font-size="10.2" text-anchor="middle" stroke="#111">14%</text>
<text x="112.7" y="619.2" font-size="10.2" text-anchor="middle" stroke="#111">23%</text>
<text x="173.0" y="634.6" font-size="10.2" text-anchor="middle" stroke="#111">37%</text>
<text x="128" y="653.8" font-size="10.2" text-anchor="middle" stroke="#111">13%</text>
<text x="286.4" y="613.9" font-size="10.2" text-anchor="middle" stroke="#111">37%</text>
<text x="254.4" y="659.0" font-size="10.2" text-anchor="middle" stroke="#111">20%</text>
<text x="222.7" y="617.8" font-size="10.2" text-anchor="middle" stroke="#111">33%</text>
<text x="245" y="581.9" font-size="10.2" text-anchor="middle" stroke="#111">7%</text>
<text x="0" y="0" font-size="10.2" text-anchor="middle" stroke="#111" transform="translate(262.0 576.6) rotate(-80)">3%</text>
<text x="367" y="581.0" font-size="10.2" text-anchor="middle" stroke="#111">3%</text>
<text x="389.8" y="601.7" font-size="10.2" text-anchor="middle" stroke="#111">23%</text>
<text x="395" y="627.7" font-size="10.2" text-anchor="middle" stroke="#111">3%</text>
<text x="334.8" y="640.2" font-size="10.2" text-anchor="middle" stroke="#111">70%</text>
<text x="448.5" y="595.9" font-size="10.2" text-anchor="middle" stroke="#111">23%</text>
<text x="495.2" y="595.9" font-size="10.2" text-anchor="middle" stroke="#111">23%</text>
<text x="445.6" y="640.2" font-size="10.2" text-anchor="middle" stroke="#111">23%</text>
<text x="495.2" y="648.4" font-size="10.2" text-anchor="middle" stroke="#111">31%</text>
<text x="145.4" y="565.0" font-size="10.2" text-anchor="middle" stroke="#111">Guinney et al.</text>
<text x="254.4" y="564.6" font-size="10.2" text-anchor="middle" stroke="#111">Tumors</text>
<text x="362.9" y="565.0" font-size="10.2" text-anchor="middle" stroke="#111">Organoids</text>
<text x="471.2" y="565.0" font-size="10.2" text-anchor="middle" stroke="#111">Xenotransplants (h)</text>
<rect x="20.6" y="582.1" width="4.4" height="4.4" fill="#f8b133"/>
<text x="29.9" y="587.9" font-size="10.2" stroke="#111" textLength="27.3" lengthAdjust="spacingAndGlyphs">CMS1</text>
<rect x="20.6" y="597.9" width="4.4" height="4.4" fill="#4b4bf2"/>
<text x="29.9" y="603.7" font-size="10.2" stroke="#111" textLength="27.3" lengthAdjust="spacingAndGlyphs">CMS2</text>
<rect x="20.6" y="613.3" width="4.4" height="4.4" fill="#ffc4ce"/>
<text x="29.9" y="619.1" font-size="10.2" stroke="#111" textLength="27.3" lengthAdjust="spacingAndGlyphs">CMS3</text>
<rect x="20.6" y="627.7" width="4.4" height="4.4" fill="#349c34"/>
<text x="29.9" y="633.5" font-size="10.2" stroke="#111" textLength="27.3" lengthAdjust="spacingAndGlyphs">CMS4</text>
<rect x="20.6" y="642.9" width="4.4" height="4.4" fill="#999999"/>
<text x="29.9" y="648.7" font-size="10.2" stroke="#111">Mixed or</text>
<text x="29.9" y="660.3" font-size="10.2" stroke="#111">indeterminate</text>
<path d="M20.25 704.0L32.25 704.0C72.675 704.0 72.675 706.0 113.1 706.0L113.1 718.3C72.675 718.3 72.675 716.5 32.25 716.5L20.25 716.5Z" fill="#3a3af9" fill-opacity="0.88"/>
<path d="M20.25 716.5L32.25 716.5C72.675 716.5 72.675 746.6 113.1 746.6L113.1 769.0C72.675 769.0 72.675 740.4 32.25 740.4L20.25 740.4Z" fill="#3a3af9" fill-opacity="0.88"/>
<path d="M20.25 748.1L32.25 748.1C72.675 748.1 72.675 769.0 113.1 769.0L113.1 785.1C72.675 785.1 72.675 763.9 32.25 763.9L20.25 763.9Z" fill="#ffc8cf" fill-opacity="0.88"/>
<path d="M20.25 745.0L32.25 745.0C72.675 745.0 72.675 720.4 113.1 720.4L113.1 723.2C72.675 723.2 72.675 748.1 32.25 748.1L20.25 748.1Z" fill="#ffc8cf" fill-opacity="0.88"/>
<path d="M20.25 779.6L32.25 779.6C72.675 779.6 72.675 789.8 113.1 789.8L113.1 809.2C72.675 809.2 72.675 803.2 32.25 803.2L20.25 803.2Z" fill="#0a7a0a" fill-opacity="1"/>
<path d="M20.25 809.7L32.25 809.7C72.675 809.7 72.675 809.4 113.1 809.4L113.1 812.4C72.675 812.4 72.675 813.0 32.25 813.0L20.25 813.0Z" fill="#9a969a" fill-opacity="1"/>
<path d="M20.25 806.8L32.25 806.8C72.675 806.8 72.675 735.25 113.1 735.25L113.1 738.75C72.675 738.75 72.675 809.9 32.25 809.9L20.25 809.9Z" fill="#9a969a" fill-opacity="0.88"/>
<path d="M20.25 773.4L32.25 773.4C72.675 773.4 72.675 723.2 113.1 723.2L113.1 728.5C72.675 728.5 72.675 779.6 32.25 779.6L20.25 779.6Z" fill="#349334" fill-opacity="0.88"/>
<path d="M20.25 770.1L32.25 770.1C72.675 770.1 72.675 695.0 113.1 695.0L113.1 698.75C72.675 698.75 72.675 773.4 32.25 773.4L20.25 773.4Z" fill="#349334" fill-opacity="0.88"/>
<path d="M20.25 695.3L32.25 695.3C72.675 695.3 72.675 743.1 113.1 743.1L113.1 746.6C72.675 746.6 72.675 698.8 32.25 698.8L20.25 698.8Z" fill="#f2ac34" fill-opacity="0.95"/>
<rect x="20.25" y="695.3" width="12.00" height="3.50" fill="#f5a623"/>
<rect x="20.25" y="704.0" width="12.00" height="36.40" fill="#1a1aee"/>
<rect x="20.25" y="745.0" width="12.00" height="18.90" fill="#ffc6ce" fill-opacity="0.8"/>
<rect x="20.25" y="770.1" width="12.00" height="33.10" fill="#1c861c" fill-opacity="0.8"/>
<rect x="20.25" y="806.8" width="12.00" height="6.20" fill="#8e8c8e" fill-opacity="0.8"/>
<rect x="113.1" y="695.0" width="11.65" height="3.75" fill="#f5a623"/>
<rect x="113.1" y="706.0" width="11.65" height="22.50" fill="#1616f0"/>
<rect x="113.1" y="735.25" width="11.65" height="3.50" fill="#ffc6ce"/>
<rect x="113.1" y="743.1" width="11.65" height="69.30" fill="#8c8a8c"/>
<path d="M144.0 695.0L156.0 695.0C196.25 695.0 196.25 695.0 236.5 695.0L236.5 702.75C196.25 702.75 196.25 702.75 156.0 702.75L144.0 702.75Z" fill="#f2ac34" fill-opacity="0.9"/>
<path d="M144.0 707.25L156.0 707.25C196.25 707.25 196.25 702.75 236.5 702.75L236.5 710.3C196.25 710.3 196.25 715.0 156.0 715.0L144.0 715.0Z" fill="#3a3af9" fill-opacity="0.88"/>
<path d="M144.0 715.0L156.0 715.0C196.25 715.0 196.25 725.6 236.5 725.6L236.5 748.4C196.25 748.4 196.25 738.1 156.0 738.1L144.0 738.1Z" fill="#3a3af9" fill-opacity="0.88"/>
<path d="M144.0 749.4L156.0 749.4C196.25 749.4 196.25 760.75 236.5 760.75L236.5 776.3C196.25 776.3 196.25 765.1 156.0 765.1L144.0 765.1Z" fill="#ffc8cf" fill-opacity="0.88"/>
<path d="M144.0 784.5L156.0 784.5C196.25 784.5 196.25 797.5 236.5 797.5L236.5 812.9C196.25 812.9 196.25 800.1 156.0 800.1L144.0 800.1Z" fill="#0a7a0a" fill-opacity="1"/>
<path d="M144.0 805.1L156.0 805.1C196.25 805.1 196.25 776.3 236.5 776.3L236.5 783.9C196.25 783.9 196.25 812.9 156.0 812.9L144.0 812.9Z" fill="#9a969a" fill-opacity="0.8"/>
<path d="M144.0 776.7L156.0 776.7C196.25 776.7 196.25 748.4 236.5 748.4L236.5 755.6C196.25 755.6 196.25 784.5 156.0 784.5L144.0 784.5Z" fill="#349334" fill-opacity="0.88"/>
<path d="M144.0 769.1L156.0 769.1C196.25 769.1 196.25 710.3 236.5 710.3L236.5 717.75C196.25 717.75 196.25 776.7 156.0 776.7L144.0 776.7Z" fill="#349334" fill-opacity="0.88"/>
<path d="M144.0 738.1L156.0 738.1C196.25 738.1 196.25 789.75 236.5 789.75L236.5 797.5C196.25 797.5 196.25 745.6 156.0 745.6L144.0 745.6Z" fill="#3030ee" fill-opacity="0.92"/>
<rect x="144.0" y="695.0" width="12.00" height="7.75" fill="#f5a623"/>
<rect x="144.0" y="707.25" width="12.00" height="38.35" fill="#1a1aee"/>
<rect x="144.0" y="749.4" width="12.00" height="15.70" fill="#ffc6ce" fill-opacity="0.8"/>
<rect x="144.0" y="769.1" width="12.00" height="31.00" fill="#1c861c" fill-opacity="0.8"/>
<rect x="144.0" y="805.1" width="12.00" height="7.80" fill="#8e8c8e" fill-opacity="0.8"/>
<rect x="236.5" y="695.0" width="12.00" height="22.75" fill="#f5a623"/>
<rect x="236.5" y="725.6" width="12.00" height="30.00" fill="#1616f0"/>
<rect x="236.5" y="760.75" width="12.00" height="23.15" fill="#ffc6ce"/>
<rect x="236.5" y="789.75" width="12.00" height="23.15" fill="#8c8a8c"/>
<text x="37" y="689.6" font-size="10.2" text-anchor="middle" stroke="#111">Tumor</text>
<text x="102.5" y="689.6" font-size="10.2" text-anchor="middle" stroke="#111">Organoid</text>
<text x="160" y="689.6" font-size="10.2" text-anchor="middle" stroke="#111">Tumor</text>
<text x="228" y="689.6" font-size="10.2" text-anchor="middle" stroke="#111">Xeno (h)</text>
<text x="72.4" y="824.7" font-size="10.2" text-anchor="middle" stroke="#111">16.6% concordant</text>
<text x="196.6" y="824.7" font-size="10.2" text-anchor="middle" stroke="#111">46.6% concordant</text>
</g></svg></body></html>
